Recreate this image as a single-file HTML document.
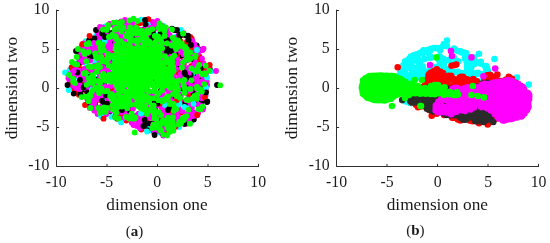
<!DOCTYPE html>
<html><head><meta charset="utf-8"><title>t-SNE</title>
<style>
html,body{margin:0;padding:0;background:#fff}
svg{display:block}
text{font-family:"Liberation Serif",serif;fill:#1a1a1a}
.t{font-size:15.8px}
.l{font-size:17px}
.c{font-size:15px}
</style></head><body>
<svg width="550" height="243" viewBox="0 0 550 243">
<rect width="550" height="243" fill="#fff"/>
<g id="dotsA">
<path d="M113.9 34.6h0M146.5 61.2h0M72.9 78.7h0M69.8 69.6h0M129.4 118.1h0M160.6 133.0h0M152.9 65.0h0M196.2 51.8h0M111.5 116.8h0M91.8 87.8h0M162.4 62.0h0M148.4 23.8h0M168.8 68.8h0M112.4 88.3h0M133.8 53.0h0M186.3 102.3h0M101.6 86.9h0M144.9 124.1h0M176.3 51.6h0M128.4 109.5h0M87.4 76.4h0M181.7 86.8h0M198.8 54.7h0M171.1 89.4h0M153.3 72.3h0M137.0 98.0h0M190.6 51.1h0M123.4 98.6h0M67.5 73.0h0M83.9 46.6h0M76.4 71.5h0M148.6 125.1h0M106.9 67.3h0M91.1 44.6h0M99.9 75.9h0M154.7 48.4h0M120.9 85.9h0M143.4 92.3h0M124.4 65.3h0M79.9 94.3h0M96.1 36.0h0M116.4 22.5h0M79.6 60.9h0M158.6 34.3h0M102.8 58.9h0M120.1 31.2h0M135.8 75.8h0M116.8 48.7h0M145.4 34.1h0M197.0 102.0h0M104.2 61.3h0M146.0 112.2h0M114.8 43.5h0M195.3 115.6h0M190.0 107.4h0M98.9 79.9h0M103.9 101.5h0M211.3 71.2h0M98.0 44.0h0M94.3 41.2h0M160.1 127.2h0M193.4 75.2h0M164.6 114.8h0M179.5 75.0h0M115.2 114.9h0M175.6 37.0h0M118.0 83.8h0M191.2 42.1h0M102.8 52.2h0M101.0 88.4h0M103.9 67.7h0M118.5 72.6h0M153.8 127.7h0M141.3 81.7h0M131.8 38.6h0M90.5 74.5h0M175.7 84.7h0M114.2 80.0h0M149.5 112.9h0M80.3 85.2h0M102.3 50.2h0M182.9 78.7h0M150.5 109.9h0M204.5 70.7h0M158.3 78.4h0M142.9 101.6h0M133.7 81.9h0M171.7 124.3h0M82.7 70.6h0M87.8 104.4h0M165.7 33.7h0M125.3 76.2h0M88.9 69.3h0M143.4 57.9h0M94.1 55.3h0M149.3 70.4h0M160.1 79.3h0M105.6 32.0h0M190.1 47.9h0M151.9 102.5h0M170.0 68.5h0M161.7 115.0h0M133.9 57.9h0M149.2 130.4h0M105.3 32.0h0M145.1 45.4h0M112.0 53.7h0M181.0 51.8h0M141.0 38.0h0M176.9 84.1h0M93.2 74.6h0M190.1 69.4h0M140.2 119.1h0M124.5 78.6h0M116.8 118.8h0M172.8 94.5h0M126.3 58.9h0M103.4 36.2h0M198.1 98.8h0M107.4 45.9h0M109.1 72.7h0M88.3 71.1h0M111.7 60.0h0M137.1 78.1h0M95.0 78.3h0M77.8 65.3h0M110.9 44.8h0M154.2 81.4h0M179.6 97.2h0M174.3 124.6h0M124.0 56.3h0M175.5 95.4h0M201.4 93.5h0M177.0 116.3h0M85.5 80.7h0M141.7 119.1h0M187.9 118.1h0M153.9 126.3h0M169.2 101.6h0M84.5 60.5h0M150.0 93.5h0M160.4 100.1h0M186.8 108.4h0M141.5 82.1h0M177.5 47.1h0M176.3 41.3h0M140.1 63.2h0M137.8 100.4h0M182.1 92.2h0M163.0 25.6h0M86.7 47.4h0M178.5 53.6h0M167.5 101.5h0M168.1 51.9h0M143.5 73.4h0M135.8 30.6h0M133.2 49.2h0M96.4 87.8h0M85.8 80.7h0M190.3 78.8h0M200.6 102.9h0M133.4 53.3h0M85.7 58.5h0M121.3 64.5h0M119.5 68.9h0M102.4 48.8h0M142.7 39.4h0M161.2 128.8h0M176.8 71.7h0M179.9 95.6h0M136.7 58.4h0M109.9 107.3h0M165.0 53.2h0M149.8 64.7h0M140.5 43.2h0M133.3 33.2h0M116.7 27.3h0M100.8 47.9h0M151.7 125.6h0M179.4 67.0h0M127.7 80.7h0M122.0 57.8h0M141.5 93.8h0M105.7 46.7h0M125.6 71.1h0M201.9 74.4h0M191.1 121.6h0M144.4 100.2h0M163.7 110.5h0M134.4 84.1h0M163.4 53.5h0M83.7 47.1h0M162.0 102.3h0M144.8 88.0h0M123.8 43.6h0M110.4 72.9h0M200.1 74.7h0M100.2 46.5h0M140.7 99.3h0M128.7 47.8h0M166.8 130.3h0M116.1 67.9h0M169.1 40.5h0M186.7 107.3h0M141.8 41.3h0M190.3 44.5h0M98.1 109.9h0M140.3 39.1h0M98.4 67.5h0M166.5 133.2h0M86.5 64.6h0M73.3 64.6h0M166.3 62.8h0M121.6 57.0h0M107.1 59.4h0M118.9 117.5h0M190.6 69.4h0M71.6 74.5h0M93.7 61.0h0M127.3 116.3h0M179.1 127.0h0M116.2 49.6h0M104.4 104.5h0M112.7 50.0h0M205.1 94.3h0M100.0 74.7h0M123.5 47.0h0M130.2 76.9h0M187.6 107.2h0M190.7 111.4h0M157.5 56.5h0M113.2 60.7h0M94.4 109.0h0M104.8 26.4h0M78.8 77.6h0M173.3 71.2h0M100.1 67.5h0M159.5 99.3h0M179.2 120.6h0M166.3 31.0h0M193.5 52.3h0M151.3 62.1h0M177.7 40.6h0M102.1 46.3h0M153.1 56.3h0M142.1 44.6h0M188.5 96.7h0M137.1 117.2h0M197.4 71.5h0M104.0 112.1h0M155.8 92.6h0M97.5 61.5h0M85.8 41.2h0M103.3 90.0h0M164.4 41.1h0M168.5 38.9h0M112.1 41.1h0M186.5 83.7h0M124.9 83.9h0M162.4 27.3h0" stroke="#00ffff" stroke-width="5.8" stroke-linecap="round" fill="none"/>
<path d="M89.2 101.9h0M127.1 51.0h0M112.1 86.0h0M119.0 67.4h0M120.0 40.4h0M176.1 41.2h0M129.3 117.3h0M135.0 36.1h0M162.7 128.4h0M77.7 92.8h0M121.1 78.3h0M86.5 51.0h0M80.8 76.6h0M138.3 22.6h0M203.3 92.6h0M185.0 43.4h0M126.3 120.5h0M191.7 38.6h0M97.6 65.4h0M143.8 63.4h0M83.0 46.5h0M175.6 126.8h0M156.3 83.9h0M160.6 53.8h0M128.7 88.0h0M129.6 97.4h0M132.8 70.1h0M139.4 45.1h0M181.6 112.3h0M134.6 38.2h0M136.9 29.2h0M83.8 69.2h0M78.1 70.6h0M142.6 21.0h0M162.0 26.2h0M177.0 112.0h0M142.8 22.7h0M141.6 62.7h0M176.7 116.7h0M180.5 35.6h0M202.1 50.0h0M141.3 129.6h0M96.1 48.5h0M141.9 55.4h0M168.7 126.6h0M81.7 81.5h0M162.0 60.4h0M198.4 84.6h0M153.3 125.0h0M161.0 64.7h0M186.8 48.7h0M119.5 110.4h0M132.1 37.8h0M190.3 47.3h0M154.2 98.0h0M158.9 69.4h0M143.0 126.6h0M84.3 44.1h0M80.4 60.1h0M98.5 88.1h0M154.7 41.2h0M160.1 74.7h0M101.5 34.4h0M78.8 94.8h0M198.2 112.6h0M125.9 48.6h0M150.6 59.3h0M163.4 70.8h0M70.8 81.6h0M126.5 45.4h0M94.7 91.1h0M142.1 95.2h0M189.3 37.6h0M111.6 53.1h0M184.6 104.4h0M178.8 73.5h0M178.2 71.9h0M115.7 108.6h0M171.0 120.4h0M173.6 48.8h0M149.3 69.9h0M185.4 80.6h0M104.9 95.3h0M104.1 45.2h0M178.9 56.4h0M199.5 56.6h0M161.1 101.6h0M136.3 119.7h0M171.4 121.9h0M131.3 105.5h0M151.8 54.0h0M96.6 92.9h0M117.1 33.5h0M170.7 94.3h0M171.3 107.0h0M74.1 88.9h0M120.0 117.0h0M194.5 116.3h0M161.7 117.9h0M161.3 51.5h0M180.6 41.3h0M113.1 68.3h0M107.5 104.4h0M120.7 55.6h0M195.1 92.4h0M131.2 111.5h0M117.4 103.0h0M146.8 42.7h0M190.3 37.0h0M139.7 114.4h0M92.4 77.1h0M117.5 118.7h0M107.7 42.5h0M171.7 77.5h0M80.9 94.6h0M171.4 113.2h0M160.7 59.9h0M125.8 64.7h0M95.7 48.5h0M202.8 77.9h0M100.0 72.9h0M145.9 109.2h0M180.0 95.8h0M117.7 56.3h0M166.0 107.6h0M90.1 70.2h0M183.1 87.5h0M83.4 73.1h0M93.5 53.2h0M172.3 120.2h0M102.1 56.3h0M144.4 35.9h0M114.5 39.4h0M79.7 63.5h0M176.9 69.7h0M94.2 94.8h0M125.4 113.7h0M170.8 77.8h0M161.4 73.2h0M85.8 90.6h0M126.3 107.5h0M203.8 69.1h0M152.4 108.5h0M128.9 44.2h0M175.2 124.7h0M183.2 102.5h0M195.3 99.9h0M162.8 72.1h0M112.2 93.6h0M79.1 67.8h0M184.5 104.1h0M161.0 46.9h0M129.2 72.2h0M159.7 66.6h0M168.0 130.9h0M92.2 96.8h0M183.8 64.0h0M69.9 83.1h0M79.6 87.0h0M147.3 104.6h0M142.9 94.9h0M191.7 80.4h0M96.4 100.5h0M124.4 110.2h0M118.7 23.0h0M106.3 65.4h0M128.8 102.2h0M118.2 48.7h0M98.6 107.6h0M124.4 42.2h0M188.7 94.3h0M136.3 85.4h0M118.4 94.9h0M190.1 116.8h0M136.1 52.4h0M148.4 31.5h0M192.4 59.8h0M195.0 49.0h0M121.9 47.3h0M129.6 39.0h0M107.3 46.3h0M110.5 75.2h0M130.0 94.7h0M165.5 60.8h0M165.0 46.9h0M100.0 111.9h0M117.4 34.9h0M157.7 112.5h0M166.9 126.4h0M185.4 119.6h0M94.4 101.6h0M145.7 107.6h0M149.5 48.7h0M100.1 33.2h0M139.9 23.2h0M135.9 33.8h0M139.7 77.5h0M147.1 122.6h0M136.1 85.5h0M166.5 119.8h0M121.7 67.7h0M162.1 94.6h0M169.1 131.0h0M142.6 75.9h0M174.6 93.2h0M120.4 74.6h0M144.9 111.2h0M96.5 69.7h0M129.0 84.4h0M191.3 52.2h0M191.5 65.9h0M141.6 49.6h0M164.8 113.8h0M115.0 55.2h0M110.1 88.4h0M161.8 112.9h0M200.4 83.4h0M205.9 91.2h0M165.3 113.4h0M204.1 91.5h0M159.0 93.4h0M171.2 89.6h0M168.9 42.2h0M166.7 72.5h0M165.0 61.6h0M190.7 113.1h0M150.6 47.9h0M110.5 68.1h0M113.0 69.2h0M162.8 131.3h0M72.4 86.1h0M188.8 87.1h0M205.5 71.1h0M155.2 131.8h0M127.5 28.6h0M163.3 42.2h0M174.8 45.9h0M177.0 39.1h0M173.9 121.7h0M160.8 103.6h0M111.9 106.1h0M138.9 23.4h0M120.6 87.0h0M131.6 99.6h0M119.9 95.6h0M161.0 67.6h0M123.4 113.1h0M151.3 52.1h0M172.3 118.2h0M115.1 90.8h0M156.6 54.1h0M122.0 100.6h0M156.7 126.7h0M188.4 51.0h0M129.1 88.5h0M152.1 49.8h0M195.1 115.7h0M169.4 128.8h0M117.4 26.5h0M149.3 114.5h0" stroke="#ff0000" stroke-width="5.8" stroke-linecap="round" fill="none"/>
<path d="M94.9 108.6h0M157.5 99.7h0M135.7 41.5h0M103.2 108.8h0M185.9 72.8h0M182.9 44.8h0M153.3 126.8h0M200.3 80.4h0M137.4 88.8h0M93.1 39.8h0M91.8 102.6h0M119.9 85.7h0M126.0 79.9h0M80.3 94.1h0M185.3 35.3h0M156.0 58.6h0M197.4 76.1h0M151.3 48.3h0M184.0 68.6h0M95.0 38.3h0M149.8 123.5h0M156.1 65.1h0M103.6 85.7h0M162.7 134.1h0M167.1 64.6h0M133.0 35.7h0M103.4 59.5h0M185.1 103.6h0M168.2 52.9h0M155.1 109.6h0M80.2 56.0h0M103.6 31.3h0M138.1 36.8h0M100.7 33.7h0M174.5 40.1h0M85.5 71.2h0M193.7 93.6h0M133.7 58.0h0M190.8 75.0h0M160.7 33.6h0M173.9 84.3h0M105.0 66.9h0M88.0 49.5h0M193.3 57.3h0M89.8 76.6h0M166.9 42.1h0M137.5 51.3h0M103.7 40.9h0M79.0 51.7h0M175.9 52.3h0M188.3 58.1h0M192.2 81.0h0M92.6 69.8h0M152.0 33.1h0M173.6 40.3h0M157.7 77.2h0M106.2 41.4h0M158.3 103.4h0M189.0 88.0h0M176.8 66.4h0M188.8 57.4h0M204.2 74.9h0M198.3 48.9h0M120.5 36.2h0M121.2 89.5h0M132.6 79.7h0M113.4 103.8h0M122.7 108.8h0M143.1 81.5h0M102.6 116.9h0M171.6 40.1h0M152.8 80.6h0M172.2 28.7h0M197.9 104.6h0M140.0 77.8h0M107.1 31.1h0M126.5 32.9h0M155.1 122.3h0M86.7 86.7h0M179.0 36.3h0M123.9 67.9h0M193.3 80.9h0M183.6 57.8h0M101.0 57.4h0M189.5 120.7h0M72.2 79.9h0M102.4 68.1h0M161.4 61.0h0M145.7 24.6h0M130.7 78.3h0M162.8 48.8h0M168.5 49.8h0M147.5 130.2h0M159.7 46.9h0M144.1 69.6h0M111.0 96.0h0M82.5 89.4h0M105.3 73.6h0M146.2 34.3h0M109.2 66.2h0M108.4 46.1h0M77.5 83.5h0M193.3 91.3h0M151.8 96.3h0M95.0 103.7h0M135.0 83.7h0M158.4 73.9h0M111.8 45.9h0M98.1 79.3h0M123.0 88.3h0M196.7 45.5h0M149.7 76.7h0M109.5 111.4h0M198.2 70.3h0M73.6 63.9h0M131.7 106.8h0M87.8 57.6h0M118.3 99.4h0M158.9 121.0h0M190.5 79.9h0M177.8 107.8h0M181.0 74.7h0M184.9 103.5h0M181.9 88.4h0M152.1 67.6h0M184.7 123.8h0M157.5 62.9h0M133.7 72.6h0M175.4 52.2h0M124.2 84.6h0M123.2 55.8h0M185.2 120.9h0M140.9 70.8h0M92.4 53.5h0M86.3 87.1h0M153.6 26.9h0M193.9 119.5h0M151.0 77.4h0M143.7 79.9h0M169.5 64.1h0M119.1 89.4h0M168.2 80.9h0M79.2 62.2h0M125.7 85.3h0M152.4 124.7h0M131.8 93.1h0M145.6 116.8h0M90.3 55.3h0M142.9 29.6h0M201.8 101.2h0M200.8 68.0h0M88.1 51.8h0M142.8 78.4h0M93.0 38.5h0M161.0 90.5h0M127.4 113.3h0M111.2 101.3h0M193.7 88.4h0M166.9 40.3h0M140.7 84.3h0M105.0 95.9h0M152.5 66.8h0M144.5 117.7h0M158.4 115.6h0M182.7 55.9h0M174.2 59.7h0M90.1 48.9h0M153.7 59.1h0M133.3 63.6h0M131.7 92.6h0M189.6 53.5h0M101.4 64.1h0M174.6 43.3h0M138.6 113.9h0M101.5 37.4h0M119.2 39.0h0M150.5 30.2h0M146.2 63.6h0M126.1 24.1h0M118.1 46.2h0M93.4 51.0h0M166.3 58.2h0M88.0 103.2h0M132.3 119.3h0M188.0 35.7h0M118.3 105.2h0M141.7 44.1h0M133.7 32.2h0M172.8 48.2h0M202.5 88.6h0M120.7 46.4h0M157.7 42.2h0M143.0 83.0h0M105.6 111.3h0M123.3 97.2h0M151.4 54.4h0M124.0 26.6h0M113.4 97.8h0M80.8 85.4h0M119.7 77.8h0M109.7 24.1h0M111.9 44.0h0M107.5 65.8h0M84.4 50.2h0M166.2 59.4h0M127.5 97.4h0M171.7 46.7h0M194.4 59.5h0M160.8 38.4h0M177.0 104.0h0M89.0 40.5h0M110.7 63.0h0M162.3 38.2h0M193.3 86.4h0M174.4 47.5h0M131.0 100.5h0M192.5 111.9h0M195.5 91.0h0M171.0 64.6h0M179.1 118.3h0M107.3 27.1h0M209.7 68.4h0M207.3 101.4h0M177.7 118.5h0M160.7 71.9h0M130.0 79.2h0M172.2 115.5h0M104.2 83.5h0M147.8 46.8h0M127.4 40.9h0M111.8 32.9h0M172.9 98.8h0M100.6 45.9h0M143.4 71.0h0M85.9 85.6h0M115.4 116.7h0M148.4 109.9h0M90.1 98.3h0M156.2 73.0h0M182.0 118.6h0" stroke="#000000" stroke-width="5.8" stroke-linecap="round" fill="none"/>
<path d="M81.6 51.7h0M119.5 41.5h0M94.4 102.7h0M133.0 30.0h0M114.0 73.9h0M119.9 36.8h0M80.8 76.4h0M130.9 39.4h0M205.6 95.6h0M160.7 131.5h0M164.5 47.0h0M101.9 33.1h0M193.3 52.6h0M92.6 94.8h0M191.9 107.7h0M114.3 38.8h0M191.1 55.5h0M120.8 84.1h0M120.9 118.7h0M151.3 93.6h0M190.2 103.1h0M140.1 77.7h0M88.3 53.0h0M153.5 25.9h0M169.9 36.2h0M131.7 39.6h0M185.2 68.5h0M107.6 97.7h0M143.3 68.0h0M116.2 70.2h0M166.6 118.0h0M109.5 70.7h0M150.8 59.0h0M113.8 72.9h0M168.2 91.2h0M109.7 86.5h0M163.7 53.0h0M168.5 71.2h0M121.3 87.7h0M128.1 81.5h0M151.0 64.9h0M201.1 83.7h0M103.0 27.7h0M145.7 47.1h0M139.3 84.4h0M98.9 86.7h0M81.4 79.4h0M154.6 25.9h0M126.8 25.1h0M131.7 122.6h0M148.8 104.3h0M124.4 37.2h0M183.3 32.9h0M100.5 62.0h0M96.8 53.0h0M172.9 68.6h0M200.8 92.7h0M198.3 85.5h0M89.9 108.1h0M116.6 110.3h0M168.8 118.0h0M82.9 62.1h0M157.0 28.3h0M148.5 115.2h0M168.0 47.4h0M93.7 71.2h0M193.1 87.8h0M92.5 84.4h0M108.7 100.9h0M122.6 33.8h0M198.8 82.5h0M170.2 115.8h0M116.7 34.6h0M141.3 123.8h0M168.6 64.5h0M137.3 35.5h0M194.1 64.6h0M198.4 91.4h0M90.1 60.6h0M136.0 87.3h0M123.7 59.7h0M167.3 49.7h0M106.1 77.8h0M104.4 86.3h0M150.3 111.2h0M198.3 111.6h0M161.5 94.4h0M119.9 50.8h0M186.5 123.8h0M110.8 110.3h0M177.9 78.9h0M161.8 59.3h0M148.8 66.1h0M138.1 61.4h0M101.5 45.0h0M117.8 32.7h0M133.8 71.0h0M151.6 53.3h0M110.4 54.1h0M175.9 84.1h0M205.9 88.0h0M119.0 111.6h0M74.4 75.8h0M202.5 50.1h0M89.3 49.1h0M172.5 43.0h0M125.5 40.7h0M156.8 122.7h0M163.8 40.3h0M156.6 25.8h0M116.5 32.9h0M93.0 82.3h0M198.8 95.0h0M114.3 108.5h0M163.9 66.1h0M168.6 57.7h0M72.8 67.2h0M115.5 77.1h0M156.1 47.7h0M206.5 85.7h0M158.6 105.4h0M114.7 27.5h0M189.4 68.3h0M147.0 88.7h0M149.5 97.2h0M156.6 56.9h0M178.1 47.8h0M173.6 110.3h0M183.5 54.2h0M133.8 50.4h0M137.3 96.9h0M183.2 60.8h0M73.3 78.0h0M149.5 38.5h0M183.8 46.0h0M162.0 58.5h0M187.3 72.8h0M73.2 85.7h0M98.5 47.1h0M104.4 69.6h0M99.6 41.1h0M180.9 95.4h0M97.4 86.3h0M197.9 49.0h0M179.7 117.6h0M107.5 56.9h0M138.8 126.0h0M88.9 100.3h0M156.0 72.0h0M153.2 125.0h0M119.5 112.3h0M174.3 124.9h0M100.1 113.8h0M141.7 44.6h0M130.3 29.0h0M82.6 76.2h0M84.9 68.9h0M91.6 100.6h0M141.1 29.9h0M118.5 77.3h0M200.0 106.3h0M106.0 37.9h0M70.7 78.8h0M126.9 84.7h0M170.0 96.7h0M147.8 83.8h0M198.6 104.6h0M125.5 55.3h0M123.6 63.6h0M127.1 33.7h0M157.6 130.4h0M103.2 91.4h0M122.1 45.7h0M193.8 112.8h0M170.9 56.1h0M163.5 83.8h0M195.4 79.0h0M100.1 93.7h0M178.5 62.8h0M173.7 64.6h0M145.0 91.7h0M168.3 55.8h0M160.9 83.1h0M98.4 91.6h0M136.9 105.1h0M144.4 74.9h0M98.1 33.5h0M206.8 81.3h0M144.7 81.1h0M189.3 45.5h0M134.9 95.1h0M122.7 118.8h0M87.7 47.1h0M79.8 60.0h0M187.7 80.4h0M133.7 26.9h0M171.0 71.5h0M137.7 114.6h0M180.9 34.5h0M168.7 61.3h0M144.2 45.3h0M121.1 58.0h0M94.9 86.5h0M174.6 49.9h0M113.9 45.9h0M162.0 122.1h0M95.1 68.3h0M186.0 92.3h0M121.2 21.4h0M132.1 61.3h0M173.7 52.5h0M126.8 96.1h0M188.9 59.5h0M123.3 87.5h0M121.3 98.2h0M114.7 24.7h0M180.4 62.9h0M145.0 77.3h0M202.8 109.5h0M135.2 73.1h0M193.3 67.2h0M136.9 126.0h0M131.7 76.7h0M142.8 117.8h0M167.2 107.4h0M125.9 21.0h0M168.7 84.4h0M182.5 111.1h0M180.0 85.7h0M173.5 75.6h0M128.4 88.1h0M115.5 80.0h0M106.3 48.4h0M112.2 47.5h0M196.3 84.6h0M142.7 67.9h0M197.5 115.0h0M195.9 47.7h0M146.7 62.2h0M135.5 76.4h0M153.9 61.2h0M187.4 40.7h0M205.6 84.7h0M146.1 66.5h0M151.0 56.0h0M106.1 114.3h0M108.9 103.8h0M187.6 89.1h0M72.9 69.6h0M155.8 38.3h0M206.0 85.3h0M187.3 77.5h0M167.8 99.4h0M109.4 42.1h0M127.9 97.4h0M169.6 35.1h0M109.2 44.7h0M153.6 55.4h0M150.3 35.0h0M122.5 95.1h0M98.4 83.4h0M78.4 73.4h0M176.1 69.1h0M168.6 30.1h0M108.8 59.0h0M179.6 77.3h0M138.7 122.7h0M156.1 82.8h0M194.2 44.1h0M115.3 71.5h0M102.1 107.7h0M109.9 24.6h0M150.1 27.8h0M148.9 113.3h0M155.7 73.0h0M69.2 79.4h0M84.3 87.4h0M118.3 62.3h0M166.1 36.2h0M198.5 75.3h0M140.4 82.2h0M82.1 73.8h0M89.3 82.1h0M142.0 61.3h0M94.4 65.9h0M141.3 126.0h0M139.2 113.7h0M151.8 101.1h0M99.3 108.6h0M87.7 48.6h0M143.8 52.1h0M153.1 44.9h0M155.7 112.8h0M101.8 90.0h0M159.2 101.4h0M189.5 58.2h0M188.8 73.0h0M208.8 66.9h0M126.7 26.9h0M101.7 106.6h0M168.5 34.7h0M117.0 33.3h0M94.5 43.1h0M137.9 77.4h0M179.7 94.6h0M94.7 93.2h0M194.2 113.1h0M117.8 36.0h0M178.8 32.7h0M203.3 108.0h0M192.2 115.1h0M154.9 69.8h0M191.1 112.9h0M198.1 52.9h0M99.7 40.5h0M134.5 45.2h0M139.9 128.2h0M169.5 103.7h0M124.4 112.8h0M186.2 100.3h0M126.6 26.8h0M164.5 119.3h0M116.3 89.5h0M192.8 113.9h0M189.1 67.7h0M157.1 72.5h0M115.7 42.4h0M159.4 52.1h0M172.0 70.6h0M165.8 115.7h0M92.4 49.5h0M158.0 126.4h0M124.7 77.7h0M134.0 116.0h0M102.6 59.5h0M79.5 84.3h0M196.8 79.5h0M201.6 98.3h0M119.7 97.7h0M161.3 62.4h0M144.4 99.6h0M203.7 77.5h0M169.3 84.8h0M133.0 108.8h0M201.2 106.0h0M114.1 32.9h0M86.3 88.6h0M152.8 21.8h0M124.4 108.3h0M162.8 50.7h0M181.4 52.0h0M147.8 68.0h0M188.0 99.5h0M173.3 101.3h0M106.7 36.0h0M152.6 118.0h0M186.2 58.9h0M85.5 79.7h0M177.7 37.1h0M109.8 63.3h0M92.8 54.2h0M113.4 70.1h0M80.7 48.1h0M124.7 63.6h0M133.3 119.4h0M162.1 112.2h0M112.5 34.8h0M180.6 74.1h0M150.0 98.8h0M179.9 50.0h0M145.5 51.6h0M161.0 48.1h0M191.3 86.0h0M104.9 46.1h0M74.8 83.7h0M180.1 99.7h0M127.6 115.8h0M81.1 53.9h0M163.3 135.5h0M161.6 101.5h0M183.3 64.7h0M116.6 64.5h0M188.1 59.2h0M145.9 80.4h0M167.1 127.3h0M84.6 57.8h0M74.2 67.0h0M141.3 121.2h0M166.8 87.4h0M126.2 86.9h0M185.4 119.5h0M87.3 98.9h0M180.1 77.8h0M178.4 117.4h0M163.9 124.5h0M172.4 91.6h0M156.9 117.8h0M106.0 42.3h0M187.5 60.4h0M193.1 56.2h0M85.4 50.0h0M73.1 71.0h0M149.5 115.7h0M160.9 58.0h0M115.0 86.2h0M97.6 114.0h0M188.5 82.3h0M68.4 78.3h0M129.3 23.8h0M161.0 105.5h0M154.1 65.4h0M142.9 88.7h0M137.6 32.5h0M133.9 100.3h0M173.1 72.1h0M116.6 39.5h0M126.0 50.9h0M93.9 106.9h0M143.5 70.2h0M94.4 102.9h0M94.3 48.8h0M150.3 102.6h0M175.3 104.9h0M175.2 93.8h0M104.6 59.9h0M89.2 94.1h0M187.9 72.2h0M137.3 117.5h0M150.8 78.7h0M96.2 47.1h0M176.8 63.4h0M189.0 119.9h0M97.0 88.3h0M191.9 113.1h0M135.4 21.3h0M200.9 82.0h0M160.2 125.3h0M138.6 95.0h0M95.7 46.1h0M203.5 63.3h0M80.0 89.0h0M134.3 88.3h0M162.0 103.3h0M131.7 24.3h0M136.5 65.4h0M167.6 104.1h0M100.9 96.2h0M170.6 74.3h0M156.3 23.7h0M99.2 64.4h0M185.4 117.7h0M161.6 107.6h0M97.8 99.0h0M89.1 79.2h0M149.6 117.4h0M141.4 92.6h0M155.6 114.7h0M148.0 51.9h0M191.8 116.2h0M134.5 31.1h0M164.1 41.6h0M130.1 29.6h0M118.3 27.6h0M176.4 120.9h0M120.6 53.4h0M181.4 34.3h0M170.6 89.9h0M144.1 72.3h0M126.7 91.5h0M163.9 129.2h0M176.8 114.4h0M168.9 121.0h0M132.0 103.3h0M102.9 53.1h0M117.7 56.1h0M78.6 70.7h0M179.9 49.9h0M102.5 66.9h0M114.6 111.1h0M186.4 81.7h0M112.3 93.4h0M120.5 82.4h0M145.8 96.3h0M91.1 70.1h0M169.8 101.3h0M178.9 109.0h0M102.3 47.8h0M96.2 48.1h0M155.0 97.0h0M156.1 101.8h0M110.8 23.9h0M119.7 33.6h0M81.4 77.0h0M106.1 111.0h0M110.7 66.5h0M170.2 70.9h0M191.6 43.9h0M195.7 115.2h0M167.3 50.3h0M165.5 88.5h0M165.8 38.3h0M164.4 86.3h0M120.0 105.2h0M102.8 61.2h0M144.5 29.8h0M102.2 114.3h0M107.9 63.0h0M181.8 43.7h0M93.9 43.0h0M123.2 61.1h0M162.8 74.3h0M166.2 119.3h0M131.5 30.3h0M134.8 103.9h0M137.8 37.5h0M99.5 70.4h0M119.6 73.9h0M178.6 85.5h0M100.9 37.1h0M206.3 72.9h0M133.8 55.3h0M95.6 97.9h0M119.6 30.8h0M164.6 79.6h0M67.8 74.1h0M178.0 82.3h0M100.0 77.6h0M157.2 96.4h0M196.0 61.4h0M98.9 89.8h0M131.6 33.3h0M93.5 108.5h0M153.8 132.0h0M125.9 99.9h0M99.9 74.9h0M159.7 42.7h0M192.4 40.9h0M113.6 66.3h0M116.8 98.6h0M103.7 72.1h0M150.5 103.9h0M85.2 45.7h0M144.4 87.8h0M100.1 36.7h0M154.2 71.9h0M165.9 122.2h0M209.1 66.4h0M108.6 51.7h0M128.7 81.4h0M194.7 115.7h0M164.6 79.3h0M82.0 46.1h0M165.4 88.4h0M151.8 38.4h0M170.6 47.6h0M100.4 61.2h0M144.7 99.7h0M160.1 74.3h0M167.5 114.8h0M168.4 103.6h0M163.7 38.3h0M99.9 69.2h0M177.2 60.4h0M166.2 110.7h0M83.6 43.5h0M97.1 48.9h0M126.5 68.0h0M76.0 87.9h0M118.8 103.0h0M131.3 37.7h0M168.1 35.9h0M182.1 119.2h0M162.9 94.4h0M94.2 110.6h0M110.3 47.6h0M190.5 90.2h0M154.7 40.5h0M175.7 49.6h0M90.7 101.9h0M104.8 103.8h0M115.6 80.5h0M113.3 67.5h0M137.7 47.9h0M160.1 102.0h0M104.5 113.8h0M176.2 58.2h0M139.7 39.3h0M207.1 85.2h0M170.7 63.6h0M174.4 44.3h0M186.8 115.0h0M78.5 88.4h0M93.5 103.4h0M187.8 113.7h0M166.2 85.8h0M153.7 29.3h0M161.6 45.8h0M103.8 68.3h0M146.1 105.5h0M98.0 51.9h0" stroke="#ff00ff" stroke-width="5.8" stroke-linecap="round" fill="none"/>
<path d="M141.0 19.6h0M104.8 41.0h0M180.8 30.0h0M197.0 50.0h0M65.0 72.4h0M68.7 90.0h0M184.5 107.0h0M141.0 113.5h0M207.0 77.4h0M206.0 87.4h0M177.4 105.0h0M165.0 105.0h0M101.0 116.0h0M121.0 122.4h0M147.0 131.5h0M179.5 103.7h0M142.0 112.5h0M193.5 103.7h0" stroke="#00ffff" stroke-width="5.8" stroke-linecap="round" fill="none"/>
<path d="M148.4 19.2h0M89.5 35.8h0M82.2 44.2h0M190.7 46.0h0M187.0 42.4h0M71.5 67.5h0M85.0 105.0h0M167.0 66.0h0M200.0 60.0h0M209.7 65.0h0M204.7 97.4h0M177.0 100.0h0M103.6 118.7h0M159.6 103.7h0M197.0 115.0h0" stroke="#ff0000" stroke-width="5.8" stroke-linecap="round" fill="none"/>
<path d="M96.0 30.0h0M102.0 33.6h0M105.0 37.0h0M153.0 33.0h0M161.0 33.5h0M174.5 30.0h0M179.5 35.0h0M167.0 48.0h0M171.0 51.0h0M92.0 56.0h0M76.0 51.0h0M145.0 20.0h0M152.0 38.0h0M167.0 40.0h0M177.0 30.0h0M180.0 36.0h0M188.6 40.0h0M191.0 45.0h0M167.0 52.0h0M67.5 85.0h0M73.7 93.6h0M77.4 72.4h0M80.0 80.0h0M83.6 87.4h0M87.4 92.4h0M106.0 95.0h0M102.0 101.0h0M107.0 103.6h0M154.6 102.0h0M169.6 108.5h0M184.5 72.4h0M185.0 73.7h0M187.0 77.4h0M206.0 92.4h0M157.4 103.6h0M207.0 102.0h0M105.0 103.7h0M122.0 110.0h0M144.7 120.0h0M143.4 126.0h0M154.6 135.0h0M184.5 123.7h0M168.0 110.0h0M145.0 125.0h0" stroke="#000000" stroke-width="5.8" stroke-linecap="round" fill="none"/>
<path d="M157.4 21.0h0M203.5 48.6h0M73.7 71.0h0M202.0 58.7h0M216.0 71.0h0M133.5 125.0h0M110.0 24.0h0M125.0 20.0h0M100.0 27.0h0" stroke="#ff00ff" stroke-width="5.8" stroke-linecap="round" fill="none"/>
<path d="M162.5 101.4h0M158.7 127.4h0M95.5 54.4h0M88.2 43.9h0M182.8 118.1h0M186.3 54.2h0M112.6 105.1h0M143.1 34.7h0M135.1 40.4h0M144.3 60.8h0M174.3 81.4h0M74.8 63.8h0M138.5 47.2h0M167.0 43.4h0M113.0 74.9h0M173.7 111.1h0M121.2 71.2h0M159.3 29.0h0M134.2 94.6h0M83.9 73.5h0M159.4 53.0h0M77.2 64.6h0M89.3 81.7h0M129.6 57.7h0M104.0 107.5h0M157.0 51.7h0M135.6 104.4h0M116.2 46.6h0M103.3 73.9h0M195.6 55.7h0M90.6 108.0h0M116.6 39.2h0M128.4 117.5h0M196.9 87.0h0M157.4 127.1h0M105.0 61.2h0M121.7 59.6h0M122.2 29.6h0M127.2 94.5h0M200.6 109.3h0M176.1 109.2h0M165.0 63.0h0M147.0 57.5h0M190.4 58.6h0M168.2 96.6h0M148.4 72.3h0M116.3 112.7h0M97.0 58.0h0M178.1 40.5h0M135.2 65.6h0M111.7 94.1h0M201.8 74.1h0M202.5 106.6h0M152.3 29.1h0M154.5 118.4h0M143.9 75.8h0M119.8 60.9h0M130.6 104.6h0M130.1 27.4h0M185.5 60.0h0M98.2 108.0h0M130.8 63.0h0M173.3 130.8h0M95.1 53.3h0M114.7 106.4h0M92.8 83.5h0M141.0 98.6h0M204.2 84.1h0M181.0 123.3h0M161.2 115.2h0M129.3 90.4h0M103.9 50.1h0M128.7 79.4h0M136.1 27.4h0M174.4 108.4h0M100.5 47.6h0M143.6 37.7h0M156.8 127.7h0M95.1 88.3h0M175.0 108.5h0M173.7 103.8h0M209.4 70.7h0M186.7 99.7h0M85.9 72.8h0M115.8 110.7h0M88.8 66.7h0M159.2 53.4h0M88.9 43.0h0M112.6 78.3h0M92.3 75.2h0M136.6 40.4h0M126.1 59.7h0M129.5 59.5h0M170.4 64.4h0M118.6 93.8h0M205.7 65.6h0M130.6 52.8h0M149.3 97.8h0M86.4 61.2h0M148.6 65.7h0M137.9 77.2h0M117.9 81.7h0M137.4 57.1h0M123.6 91.2h0M185.0 48.2h0M121.1 63.9h0M147.0 50.1h0M115.2 117.4h0M88.7 101.2h0M86.6 44.2h0M130.8 39.8h0M179.2 122.0h0M123.4 27.5h0M198.4 109.1h0M173.1 93.8h0M91.9 91.2h0M130.9 64.3h0M103.0 44.7h0M172.7 37.6h0M118.1 107.0h0M73.1 81.5h0M131.7 113.7h0M152.7 71.8h0M199.7 90.2h0M115.9 64.9h0M123.0 101.3h0M127.8 98.7h0M151.8 106.0h0M158.7 55.1h0M122.0 49.2h0M185.4 117.4h0M113.0 109.6h0M104.4 91.4h0M139.3 50.0h0M152.3 128.0h0M154.3 68.8h0M106.6 30.0h0M198.2 70.6h0M175.9 47.7h0M176.5 96.1h0M175.2 42.5h0M129.7 86.6h0M188.5 109.7h0M136.8 30.6h0M162.1 62.5h0M69.1 75.0h0M135.5 73.9h0M92.6 77.8h0M115.8 36.2h0M185.0 46.9h0M161.1 81.8h0M195.6 70.8h0M188.1 100.2h0M178.7 44.7h0M135.4 117.6h0M88.7 100.5h0M149.3 66.0h0M136.4 76.9h0M105.2 61.4h0M149.3 110.1h0M154.8 36.0h0M148.3 54.8h0M83.1 51.1h0M160.9 85.5h0M161.6 83.1h0M196.8 98.7h0M119.5 90.7h0M149.2 41.4h0M142.1 30.6h0M192.9 98.6h0M169.4 130.4h0M154.8 117.8h0M143.4 56.0h0M120.1 97.7h0M164.6 35.9h0M175.8 84.1h0M154.6 114.9h0M88.6 78.1h0M152.5 85.2h0M127.6 83.1h0M129.1 45.2h0M180.6 45.9h0M123.7 57.4h0M181.8 43.5h0M167.2 119.1h0M133.7 78.1h0M76.7 57.0h0M129.2 54.1h0M111.0 56.1h0M130.0 36.5h0M194.5 96.0h0M73.0 78.6h0M115.6 28.7h0M142.6 36.8h0M167.1 69.5h0M165.8 27.3h0M98.3 65.2h0M115.6 48.9h0M167.3 43.5h0M125.7 101.0h0M130.3 35.2h0M74.9 83.1h0M139.2 40.0h0M167.2 77.2h0M188.6 52.1h0M136.9 33.5h0M138.5 31.7h0M169.6 102.1h0M113.6 22.6h0M153.8 105.3h0M117.6 101.9h0M120.5 104.0h0M197.2 94.6h0M122.6 98.9h0M197.2 88.6h0M94.3 80.1h0M138.4 57.7h0M121.5 79.0h0M154.6 43.5h0M106.7 78.1h0M141.6 67.7h0M145.9 50.1h0M184.3 79.9h0M142.7 62.3h0M108.7 65.7h0M173.1 117.1h0M138.3 106.3h0M96.8 71.8h0M119.1 53.8h0M176.9 41.6h0M100.0 112.9h0M164.8 99.5h0M167.2 135.4h0M115.9 29.4h0M139.1 61.6h0M105.6 76.2h0M173.7 126.6h0M131.6 68.0h0M195.3 56.9h0M129.8 39.7h0M183.0 62.3h0M131.7 65.1h0M155.7 47.5h0M115.3 99.9h0M160.2 39.3h0M158.1 52.3h0M154.2 87.0h0M114.1 95.6h0M156.7 79.0h0M111.9 67.4h0M101.5 88.5h0M186.6 116.1h0M105.5 111.9h0M99.1 93.2h0M183.8 120.0h0M148.4 63.8h0M104.0 109.0h0M120.8 69.4h0M142.2 51.7h0M172.1 79.7h0M142.6 77.0h0M119.1 57.4h0M158.7 85.6h0M107.7 26.4h0M81.6 97.1h0M145.9 56.5h0M116.1 67.6h0M125.9 36.0h0M166.0 98.1h0M132.7 66.1h0M134.4 118.7h0M121.7 106.6h0M168.1 77.4h0M136.7 40.4h0M90.6 95.7h0M158.4 37.2h0M142.5 54.8h0M148.8 32.6h0M138.4 92.1h0M84.8 54.1h0M168.5 83.5h0M159.0 112.3h0M152.0 43.4h0M132.1 118.5h0M151.3 109.0h0M120.1 71.4h0M164.5 29.2h0M176.1 49.0h0M191.5 80.3h0M131.8 118.5h0M170.0 81.8h0M88.6 52.1h0M186.6 50.7h0M176.8 44.1h0M149.0 91.6h0M171.7 73.3h0M107.3 108.0h0M171.0 64.9h0M98.5 42.8h0M142.5 77.9h0M178.8 124.2h0M119.0 41.9h0M117.5 106.4h0M144.8 35.0h0M205.5 74.3h0M95.6 66.3h0M113.1 100.1h0M161.0 77.9h0M122.6 49.0h0M117.6 88.2h0M148.8 91.1h0M191.3 68.5h0M108.3 58.4h0M133.2 59.9h0M146.8 50.0h0M173.9 38.7h0M121.4 31.6h0M105.8 80.8h0M159.7 63.8h0M165.4 81.4h0M127.7 67.2h0M152.8 111.4h0M131.3 76.1h0M157.5 94.4h0M154.3 91.2h0M114.8 62.4h0M91.6 67.0h0M204.9 73.3h0M145.4 73.8h0M146.9 39.6h0M124.6 64.4h0M147.5 49.5h0M140.2 52.3h0M108.0 53.9h0M121.6 86.2h0M178.6 80.6h0M137.4 56.2h0M101.3 56.8h0M184.5 92.9h0M149.0 62.8h0M143.1 77.2h0M142.8 77.3h0M122.5 69.1h0M133.7 91.3h0M110.1 96.0h0M140.7 57.3h0M143.6 70.8h0M136.8 77.2h0M127.7 31.8h0M161.5 67.6h0M89.9 94.8h0M124.8 79.9h0M201.9 91.6h0M114.0 66.2h0M100.4 82.5h0M157.9 46.1h0M155.0 88.2h0M124.6 44.1h0M108.7 74.9h0M144.1 96.1h0M150.3 61.3h0M147.4 67.5h0M116.4 45.7h0M159.8 47.3h0M158.5 81.6h0M132.9 33.5h0M153.9 98.3h0M121.1 41.2h0M171.9 71.3h0M126.5 94.4h0M135.7 77.9h0M132.3 52.1h0M148.8 49.8h0M96.0 56.6h0M175.7 91.7h0M200.6 89.4h0M131.5 78.2h0M117.8 83.9h0M131.1 73.7h0M120.4 65.3h0M125.2 74.3h0M112.0 34.9h0M107.5 91.0h0M140.7 78.4h0M171.4 74.3h0M155.8 57.4h0M100.4 81.6h0M140.5 80.5h0M114.8 65.2h0M145.6 96.1h0M136.9 70.9h0M86.6 84.8h0M131.3 95.6h0M140.6 60.3h0M154.5 63.1h0M129.4 101.1h0M169.0 70.6h0M164.4 85.8h0M158.4 69.2h0M144.9 76.9h0M158.0 75.8h0M128.4 66.7h0M155.1 47.4h0M142.8 84.3h0M147.5 62.2h0M142.4 58.0h0M169.0 60.3h0M99.0 42.7h0M150.9 72.7h0M130.5 40.5h0M139.1 50.5h0M125.6 68.3h0M122.7 74.9h0M123.5 58.5h0M137.0 99.2h0M184.7 88.2h0M123.5 68.4h0M167.2 85.3h0M100.0 67.1h0M123.5 84.2h0M159.9 57.0h0M140.8 108.3h0M129.1 58.4h0M182.0 67.5h0M155.6 41.8h0M190.3 89.0h0M152.4 83.2h0M129.8 58.4h0M101.5 76.1h0M175.7 86.3h0M167.3 83.3h0M118.7 40.9h0M159.9 71.8h0M169.1 62.6h0M119.7 77.7h0M128.3 33.9h0M126.9 49.9h0M113.6 56.8h0M168.1 117.7h0M188.7 59.6h0M173.2 66.8h0M153.6 54.2h0M141.0 33.2h0M190.4 52.3h0M158.5 56.1h0M150.1 43.7h0M133.1 87.5h0M158.7 27.7h0M150.5 79.2h0M126.0 61.7h0M136.5 76.8h0M167.2 96.9h0M151.6 110.1h0M118.0 105.6h0M136.1 84.4h0M139.7 70.1h0M118.7 76.5h0M196.5 71.5h0M142.4 68.5h0M161.8 64.1h0M142.9 72.9h0M177.4 88.3h0M115.2 55.2h0M143.5 86.1h0M199.2 65.0h0M180.2 98.1h0M158.2 36.4h0M96.0 55.6h0M162.0 90.6h0M140.3 90.1h0M158.3 100.2h0M100.9 51.0h0M117.7 46.5h0M186.6 49.0h0M121.1 60.0h0M166.4 58.7h0M162.5 79.9h0M118.7 42.3h0M186.3 53.4h0M114.7 76.2h0M144.4 48.8h0M172.0 87.5h0M150.4 52.5h0M119.9 25.5h0M153.1 76.5h0M118.7 68.9h0M97.8 81.1h0M131.7 58.0h0M159.5 65.6h0M169.3 79.1h0M173.7 70.8h0M85.9 96.7h0M98.0 90.1h0M144.8 86.7h0M116.0 69.2h0M123.5 47.3h0M126.7 95.0h0M161.2 67.7h0M140.8 70.9h0M150.6 72.1h0M97.5 87.5h0M161.6 43.0h0M139.2 66.3h0M127.4 79.5h0M135.8 62.4h0M117.7 62.4h0M115.5 69.1h0M178.1 89.4h0M170.3 87.8h0M143.4 61.3h0M171.8 45.5h0M132.9 116.8h0M143.6 96.9h0M126.6 80.7h0M145.6 37.6h0M126.4 92.0h0M174.4 55.6h0M149.6 67.7h0M109.8 74.9h0M121.0 50.5h0M120.8 47.7h0M166.6 69.7h0M149.8 62.6h0M144.7 62.7h0M114.1 36.3h0M145.0 89.5h0M149.2 102.0h0M106.8 62.6h0M126.6 94.0h0M188.0 57.2h0M162.4 63.1h0M116.5 65.8h0M115.4 100.7h0M158.7 93.1h0M164.3 70.0h0M169.9 104.1h0M115.8 84.7h0M151.8 64.5h0M135.5 79.2h0M158.3 81.9h0M132.2 40.4h0M178.0 95.4h0M128.0 67.4h0M164.4 31.1h0M156.3 119.0h0M150.2 53.3h0M197.3 68.3h0M148.6 59.1h0M147.8 30.3h0M108.9 37.0h0M127.1 98.7h0M122.0 28.8h0M123.2 60.8h0M142.7 95.5h0M158.4 57.5h0M129.9 36.9h0M176.8 94.5h0M145.4 49.3h0M160.9 78.4h0M147.1 43.6h0M149.4 56.1h0M162.6 80.6h0M154.7 59.0h0M183.4 84.4h0M176.7 85.7h0M160.6 76.3h0M114.6 29.7h0M118.2 81.0h0M167.2 71.9h0M145.4 106.7h0M132.5 30.4h0M102.0 61.2h0M161.6 83.6h0M137.1 85.3h0M141.7 52.8h0M133.0 84.0h0M152.1 54.7h0M125.4 67.2h0M121.8 70.2h0M146.0 59.9h0M138.6 70.9h0M115.1 65.8h0M147.3 75.3h0M155.0 65.3h0M119.2 79.5h0M149.6 59.6h0M153.2 76.5h0M137.1 42.3h0M132.6 58.4h0M127.5 65.2h0M124.2 69.9h0M153.3 60.7h0M146.5 64.7h0M156.6 58.9h0M149.1 58.2h0M142.1 65.9h0M153.9 50.1h0M120.5 80.0h0M144.3 83.1h0M124.9 68.1h0M147.3 83.8h0M138.3 61.5h0M148.8 65.0h0M128.7 73.7h0M112.9 55.8h0M157.7 61.0h0M134.6 69.7h0M154.4 71.3h0M125.8 60.3h0M153.4 64.8h0M130.4 74.8h0M154.6 87.9h0M124.3 58.9h0M129.5 69.6h0M132.5 77.2h0M102.2 75.7h0M130.2 63.2h0M146.8 68.0h0M125.2 81.1h0M146.9 61.1h0M141.9 54.9h0M122.2 63.0h0M144.0 67.0h0M128.4 52.1h0M116.1 82.1h0M144.1 57.9h0M155.2 71.4h0M133.4 59.8h0M154.6 69.3h0M161.3 69.7h0M131.0 60.0h0M129.4 68.6h0M142.5 72.1h0M145.2 55.4h0M136.2 56.5h0M145.6 52.8h0M131.1 57.4h0M130.6 63.4h0M159.6 63.4h0M119.4 63.0h0M149.2 71.6h0M142.3 86.1h0M154.1 66.9h0M155.6 52.5h0M136.7 57.3h0M141.4 82.3h0M132.2 82.0h0M125.1 80.4h0M115.9 57.5h0M152.6 65.1h0M141.0 65.9h0M141.5 64.2h0M125.7 63.1h0M140.5 56.9h0M145.4 83.8h0M116.7 60.5h0M135.2 66.2h0M140.3 58.7h0M138.5 66.1h0M137.8 81.5h0M140.8 51.1h0M117.7 72.0h0M134.4 59.8h0M120.6 62.9h0M137.8 59.1h0M134.2 74.9h0M149.7 71.5h0M136.6 52.3h0M149.6 81.1h0M156.3 77.7h0M142.8 69.8h0M138.8 78.6h0M135.3 87.6h0M149.6 62.8h0M139.0 49.8h0M129.0 63.0h0M172.3 57.8h0M151.5 66.8h0M135.0 72.3h0M111.9 75.5h0M165.3 69.0h0M138.2 67.6h0M148.0 61.1h0M140.6 71.1h0M134.3 69.9h0M143.5 73.2h0M125.6 60.6h0M133.2 78.1h0M142.4 49.3h0M121.6 85.5h0M143.6 53.0h0M126.6 67.4h0M158.4 82.3h0M134.0 63.0h0M165.1 56.1h0M160.3 69.4h0M140.3 79.0h0M145.6 57.6h0M118.3 66.2h0M146.0 79.8h0M103.5 79.5h0M147.4 81.3h0M149.8 68.2h0M144.9 70.0h0M130.5 64.9h0M140.7 61.5h0M119.1 51.4h0M145.9 71.3h0M140.5 54.2h0M150.6 62.1h0M110.8 81.8h0M118.7 88.7h0M146.2 61.6h0M107.0 58.9h0M159.1 79.7h0M142.5 48.7h0M133.8 63.1h0M145.3 64.7h0M143.7 49.5h0M130.3 80.5h0M119.2 75.3h0M170.4 72.6h0M120.1 78.6h0M113.8 69.4h0M133.4 78.5h0M155.0 67.9h0M163.4 75.9h0M132.5 56.1h0M172.5 61.9h0M144.6 64.8h0M132.6 49.8h0M137.0 64.8h0M152.4 60.8h0M117.7 55.2h0M138.5 68.5h0M148.9 62.1h0M146.3 67.5h0M162.0 65.4h0M141.0 71.7h0M155.6 56.7h0M132.6 63.2h0M110.0 79.2h0M153.6 66.2h0M166.5 81.9h0M151.3 51.7h0M159.8 70.2h0M122.7 66.5h0M149.3 76.0h0M141.4 60.7h0M149.4 58.3h0M138.0 73.7h0M119.4 69.8h0M112.4 56.6h0M122.3 65.1h0M148.7 65.5h0M151.4 67.0h0M136.2 71.0h0M135.8 67.4h0M153.2 60.2h0M154.7 54.8h0M136.0 48.4h0M131.8 82.1h0M143.9 78.9h0M119.0 55.8h0M145.4 74.4h0M150.4 49.1h0M146.0 65.3h0M140.6 70.8h0M135.2 48.9h0M124.5 51.4h0M121.1 64.6h0M156.8 58.8h0M128.6 54.4h0M115.5 66.7h0M132.4 63.6h0M125.9 70.9h0M122.6 71.6h0M130.0 74.0h0M126.9 70.5h0M145.0 65.2h0M161.3 67.8h0M126.9 73.0h0M127.8 60.5h0M139.2 67.8h0M162.2 48.3h0M135.5 77.4h0M136.8 69.3h0M159.8 53.5h0M139.6 74.0h0M131.0 48.2h0M125.4 68.0h0M141.6 84.7h0M157.1 50.3h0M153.1 75.3h0M161.1 64.5h0M131.4 67.5h0M160.1 72.3h0M162.1 74.0h0M131.0 55.7h0M134.2 62.8h0M126.6 60.2h0M139.1 90.1h0M138.1 60.7h0M140.7 75.5h0M127.9 61.9h0M115.2 73.1h0M148.3 81.2h0M122.7 88.1h0M150.9 63.2h0M133.7 62.9h0M122.5 73.8h0M130.7 58.7h0M146.0 67.1h0M131.0 63.6h0M132.3 79.7h0M152.7 58.6h0M138.5 79.9h0M135.1 84.1h0M145.1 72.8h0M110.7 74.6h0M143.6 71.9h0M145.6 71.4h0M132.1 75.2h0M139.9 55.3h0M125.1 67.6h0M143.6 43.6h0M110.8 76.7h0M138.8 95.0h0M118.1 63.5h0M130.8 71.7h0M158.2 82.4h0M125.2 78.6h0M122.4 69.1h0M141.3 72.3h0M128.1 79.6h0M138.1 65.8h0M135.4 55.2h0M148.9 69.4h0M145.2 85.0h0M127.2 63.1h0M139.1 74.7h0M136.6 75.5h0M145.2 48.1h0M129.7 45.3h0M135.1 61.8h0M147.1 67.7h0M138.1 78.9h0M147.1 53.5h0M129.6 69.3h0M162.3 64.0h0M136.7 68.7h0M149.7 65.1h0M143.0 61.7h0M131.5 57.9h0M148.0 60.3h0M146.5 70.1h0M125.8 53.6h0M136.8 74.2h0M173.6 81.7h0M157.6 69.9h0M133.7 71.5h0M109.2 75.5h0M139.1 72.3h0M124.9 54.8h0M130.2 65.6h0M143.8 62.4h0M143.8 72.9h0M123.1 65.0h0M117.7 60.4h0M151.4 58.7h0M164.5 71.2h0M144.3 100.9h0M144.0 109.6h0M134.4 95.4h0M126.0 116.9h0M130.7 96.0h0M124.0 85.3h0M126.7 102.8h0M126.8 93.4h0M138.2 104.0h0M127.5 102.7h0M120.5 97.1h0M134.7 96.3h0M118.5 118.4h0M152.3 84.7h0M134.5 88.9h0M137.0 88.6h0M140.4 104.7h0M154.7 110.5h0M127.2 108.3h0M127.2 99.0h0M126.6 84.6h0M140.7 82.2h0M130.0 104.6h0M134.5 86.2h0M124.8 106.0h0M147.0 114.0h0M126.9 106.7h0M111.6 98.8h0M142.0 94.4h0M128.4 91.4h0M147.2 88.4h0M121.4 97.1h0M129.0 118.5h0M167.3 122.9h0M168.8 128.7h0M167.4 126.7h0M168.3 121.3h0M160.1 124.9h0M160.6 130.4h0M168.2 128.6h0M162.7 120.7h0M168.7 119.8h0M167.5 126.3h0M169.7 127.2h0M166.5 124.2h0M157.6 125.3h0M169.4 132.1h0M172.7 122.2h0M161.4 130.4h0M167.5 119.6h0M163.3 134.6h0M157.1 127.7h0M163.8 122.0h0M157.7 123.5h0M153.5 124.7h0" stroke="#00ff00" stroke-width="5.8" stroke-linecap="round" fill="none"/>
<path d="M134.7 132.4h0M190.0 123.7h0M133.5 18.6h0M129.5 20.5h0M137.5 21.0h0M108.0 25.2h0M116.5 22.6h0M159.5 23.5h0M162.5 27.0h0M103.0 29.5h0M122.0 22.0h0M172.0 29.5h0M183.0 33.5h0M78.0 49.0h0M72.0 62.0h0" stroke="#00ff00" stroke-width="5.8" stroke-linecap="round" fill="none"/>
<path d="M217.0 85.0h0" stroke="#000000" stroke-width="5.8" stroke-linecap="round" fill="none"/>
<path d="M220.3 85.3h0" stroke="#00ff00" stroke-width="5.8" stroke-linecap="round" fill="none"/>
</g><g id="dotsB">
<path d="M492.1 78.1h0M440.9 96.5h0M405.4 84.7h0M438.8 59.4h0M471.0 74.4h0M436.9 87.4h0M411.8 66.3h0M412.2 72.6h0M466.8 62.6h0M486.6 84.0h0M476.2 62.6h0M494.9 94.5h0M492.1 76.6h0M458.1 61.4h0M400.5 76.2h0M461.4 52.4h0M431.9 98.5h0M442.5 87.0h0M441.0 112.5h0M439.8 63.0h0M475.2 105.7h0M403.6 82.5h0M467.7 116.5h0M471.2 67.6h0M473.5 114.6h0M429.9 105.3h0M444.9 85.7h0M427.2 96.1h0M457.4 103.2h0M467.4 60.5h0M494.3 92.9h0M471.0 107.6h0M420.2 71.7h0M475.4 73.2h0M429.7 104.2h0M497.6 87.1h0M453.7 57.4h0M425.3 74.0h0M438.0 77.0h0M417.1 71.0h0M408.8 89.4h0M456.6 113.3h0M409.3 99.2h0M486.1 68.4h0M412.4 88.2h0M459.3 94.2h0M477.9 72.7h0M420.3 76.0h0M469.8 111.5h0M439.7 56.3h0M480.7 98.6h0M428.7 94.6h0M483.7 109.1h0M422.7 66.3h0M436.6 77.1h0M496.3 89.7h0M521.5 92.9h0M479.3 82.4h0M430.8 101.9h0M438.6 110.3h0M435.7 88.0h0M466.3 72.5h0M495.1 95.4h0M508.0 93.2h0M480.8 63.6h0M441.3 66.6h0M410.2 97.5h0M505.1 102.7h0M465.2 57.2h0M499.9 103.7h0M439.1 66.0h0M454.1 48.5h0M490.5 80.7h0M451.2 99.0h0M437.1 107.6h0M495.3 85.0h0M450.5 84.5h0M437.3 48.1h0M494.5 88.5h0M423.0 97.2h0M507.3 88.8h0M425.9 84.3h0M448.7 60.1h0M418.4 59.7h0M436.1 82.3h0M460.5 112.6h0M473.5 90.3h0M474.6 102.4h0M425.2 92.0h0M430.2 69.3h0M430.4 58.0h0M439.1 72.0h0M443.9 64.6h0M495.4 78.4h0M422.9 105.2h0M463.1 84.0h0M411.0 64.2h0M479.1 93.2h0M480.5 88.9h0M446.4 43.6h0M405.3 101.1h0M418.4 66.4h0M446.9 114.8h0M430.4 85.1h0M446.9 46.2h0M413.5 60.8h0M482.1 90.2h0M466.4 108.0h0M427.9 50.1h0M405.5 66.7h0M515.6 91.8h0M475.5 81.4h0M472.0 87.3h0M405.9 101.4h0M427.7 86.3h0M467.0 65.9h0M452.6 82.3h0M499.7 82.2h0M492.5 90.3h0M472.3 74.0h0M426.4 102.1h0M425.1 96.2h0M461.5 73.0h0M491.1 97.4h0M486.0 78.6h0M458.9 81.7h0M418.3 74.4h0M442.3 79.0h0M467.1 69.9h0M433.3 66.8h0M438.4 98.9h0M462.1 103.3h0M423.0 68.2h0M449.3 69.6h0M482.3 86.8h0M467.7 85.7h0M404.1 99.1h0M445.8 90.7h0M445.2 60.6h0M431.8 77.9h0M423.6 103.3h0M405.2 72.0h0M501.5 96.4h0M430.1 50.4h0M473.0 108.8h0M415.5 77.4h0M493.4 79.7h0M477.9 108.6h0M417.4 57.7h0M413.6 80.0h0M474.2 75.7h0M492.7 82.1h0M437.0 106.4h0M447.8 74.9h0M429.9 99.0h0M409.2 75.4h0M465.4 102.4h0M420.3 60.9h0M405.4 69.9h0M465.2 82.2h0M408.3 85.5h0M455.7 64.8h0M507.9 94.7h0M411.9 102.9h0M412.6 88.1h0M479.9 108.3h0M430.9 109.1h0M410.1 103.0h0M477.5 88.3h0M409.5 58.6h0M503.3 82.8h0M474.0 57.6h0M471.9 108.1h0M445.1 73.6h0M474.2 64.3h0M459.4 96.5h0M437.7 87.1h0M480.6 61.7h0M429.8 79.8h0M467.4 56.3h0M443.4 58.8h0M404.7 89.8h0M455.0 94.0h0M416.8 67.9h0M502.0 93.8h0M424.5 59.0h0M399.3 90.5h0M472.9 113.8h0M470.4 113.3h0M458.8 80.4h0M433.3 76.1h0M421.9 89.1h0M464.3 77.0h0M490.3 86.9h0M483.7 79.0h0M399.9 75.0h0M508.6 87.4h0M417.4 95.9h0M482.8 104.2h0M406.9 76.0h0M403.7 83.7h0M440.1 50.2h0M484.3 91.0h0M468.8 114.8h0M439.4 92.3h0M491.5 75.7h0M432.5 72.5h0M416.5 77.7h0M431.3 101.3h0M461.1 109.3h0M490.7 88.9h0M460.6 92.5h0M466.0 53.0h0M437.1 107.8h0M472.3 79.9h0M491.6 78.4h0M447.2 83.3h0M518.5 91.6h0M433.5 104.0h0M483.5 87.6h0M429.6 71.7h0M444.2 44.3h0M514.1 94.2h0M461.6 82.7h0M443.7 94.3h0M467.7 78.8h0M430.2 56.3h0M486.2 66.0h0M443.9 44.1h0M463.2 116.5h0M447.9 72.9h0M477.8 81.2h0M500.9 91.1h0M444.5 76.8h0M471.3 98.6h0M416.4 100.3h0M492.5 82.9h0M480.6 92.8h0M419.3 65.7h0M439.3 108.4h0M443.8 69.8h0M480.7 74.1h0M457.6 116.5h0M432.7 81.1h0M414.9 79.5h0M401.1 91.3h0M414.9 59.3h0M452.3 99.9h0M454.2 72.3h0M449.7 80.7h0M469.6 66.8h0M487.0 67.9h0M453.9 64.0h0M467.5 61.0h0M486.1 71.8h0M457.1 83.7h0M492.7 91.5h0M420.0 53.0h0M485.0 66.0h0M428.4 53.0h0M414.6 93.9h0M473.7 58.6h0M505.2 93.4h0M453.3 87.8h0M484.3 74.2h0M407.5 67.9h0M445.7 68.5h0M464.8 58.7h0M488.4 79.8h0M513.8 88.5h0M479.3 73.8h0M452.8 50.0h0M469.5 60.5h0M473.2 109.8h0M435.0 85.3h0M432.6 106.1h0M423.4 91.1h0M470.5 64.7h0M405.9 77.9h0M466.1 105.1h0M422.6 53.2h0M436.5 103.8h0M426.6 90.0h0M491.3 78.7h0M410.3 76.8h0M470.8 72.5h0M442.2 61.3h0M477.0 83.3h0M483.9 88.2h0M424.5 71.3h0M405.2 85.6h0M424.8 95.5h0M418.6 94.6h0M479.0 96.4h0M487.9 70.6h0M498.9 87.2h0M441.0 105.4h0M487.3 106.9h0M448.7 103.2h0M484.0 82.2h0M497.5 93.6h0M450.8 86.9h0M470.2 115.8h0M464.0 82.2h0M457.8 71.8h0M498.5 82.5h0M443.1 46.0h0M407.6 82.2h0M419.9 99.4h0M440.6 80.2h0M436.1 109.1h0M448.3 72.4h0M425.4 77.6h0M485.1 78.5h0M434.2 82.8h0M431.9 79.9h0M418.7 63.1h0M426.7 87.0h0M410.3 80.6h0M469.6 63.4h0M496.3 88.5h0M518.7 87.8h0M419.9 53.2h0M490.7 104.4h0M403.5 72.2h0M433.5 76.3h0M496.2 100.7h0M432.8 88.7h0M446.0 76.9h0M467.1 92.7h0M399.7 76.3h0M400.4 72.4h0M402.3 70.4h0M402.3 68.2h0M403.4 65.4h0M405.2 61.2h0M407.8 60.1h0M410.2 57.8h0M411.0 56.6h0M413.8 55.3h0M417.0 54.2h0M420.1 53.0h0M423.4 50.2h0M425.7 50.9h0M428.3 49.7h0M430.8 48.8h0M434.0 48.0h0M436.6 48.3h0M440.0 49.2h0M454.7 49.5h0M457.8 51.0h0M460.5 51.4h0M463.7 52.6h0M447.0 40.5h0M479.0 53.7h0M494.5 59.0h0M517.0 77.6h0M528.7 84.6h0" stroke="#00ffff" stroke-width="6.6" stroke-linecap="round" fill="none"/>
<path d="M490.9 101.1h0M480.2 98.8h0M490.1 85.6h0M461.8 94.6h0M465.7 81.3h0M475.1 81.3h0M429.5 79.6h0M511.5 87.7h0M437.0 99.3h0M466.8 95.7h0M484.8 83.2h0M510.3 84.1h0M489.7 118.0h0M504.6 80.6h0M500.4 107.4h0M460.4 120.5h0M492.5 106.4h0M452.6 95.9h0M465.4 78.7h0M505.7 108.0h0M486.9 96.6h0M473.2 106.2h0M449.2 93.0h0M485.7 77.2h0M489.6 84.9h0M474.1 107.6h0M443.7 110.6h0M433.6 94.5h0M494.2 114.0h0M442.5 98.6h0M441.9 91.2h0M442.6 105.3h0M491.0 96.4h0M476.2 113.4h0M497.4 106.5h0M412.4 94.7h0M437.0 102.6h0M452.2 93.3h0M469.0 101.4h0M510.9 82.7h0M437.7 76.8h0M435.2 94.3h0M482.5 83.8h0M416.2 104.9h0M422.4 106.1h0M485.0 79.6h0M461.7 78.4h0M508.7 104.0h0M487.2 103.4h0M497.7 96.9h0M475.3 95.5h0M494.9 98.0h0M438.0 97.0h0M467.0 118.6h0M490.6 78.3h0M465.5 101.1h0M473.9 93.6h0M465.6 107.5h0M509.9 97.0h0M498.3 107.0h0M442.3 87.1h0M463.4 83.5h0M449.2 108.2h0M500.6 85.0h0M454.4 86.9h0M460.2 109.9h0M496.2 76.2h0M428.9 86.3h0M426.1 94.5h0M420.7 105.3h0M453.9 80.6h0M486.6 85.5h0M494.7 119.1h0M440.0 81.6h0M438.7 91.3h0M501.7 111.2h0M426.4 80.2h0M409.7 99.1h0M499.0 82.9h0M421.7 88.8h0M498.9 98.7h0M500.0 86.0h0M491.1 96.4h0M495.9 77.6h0M438.2 78.4h0M506.2 108.4h0M435.6 112.1h0M490.5 107.2h0M481.2 107.9h0M511.8 87.5h0M466.8 105.2h0M466.4 112.4h0M470.1 90.7h0M444.9 89.5h0M431.3 84.5h0M493.9 119.5h0M459.3 117.1h0M419.9 97.0h0M493.6 113.1h0M451.1 75.7h0M482.7 86.6h0M418.5 100.3h0M483.9 111.6h0M472.8 111.4h0M474.1 101.9h0M488.9 109.8h0M484.3 81.0h0M462.9 112.4h0M481.2 121.0h0M454.9 106.2h0M465.6 114.0h0M516.7 86.4h0M429.9 74.4h0M431.1 91.1h0M489.1 122.6h0M455.8 105.6h0M440.7 97.6h0M462.0 88.2h0M469.2 87.3h0M476.9 81.2h0M457.0 97.6h0M450.1 99.9h0M465.2 111.5h0M501.7 110.4h0M450.4 108.9h0M428.8 103.1h0M425.8 87.0h0M478.1 116.8h0M517.0 92.8h0M497.9 105.0h0M497.4 74.6h0M414.9 97.4h0M477.2 107.4h0M426.3 100.1h0M485.1 92.4h0M454.8 94.0h0M438.3 76.1h0M512.0 87.6h0M509.2 99.8h0M489.6 92.9h0M434.0 99.9h0M445.3 91.1h0M467.6 99.9h0M462.8 112.0h0M487.7 99.0h0M420.6 93.5h0M421.1 92.0h0M412.1 102.5h0M432.2 78.8h0M480.8 121.9h0M474.3 95.2h0M446.9 97.4h0M463.5 96.0h0M463.5 93.2h0M453.3 95.8h0M427.9 94.6h0M436.7 113.8h0M462.5 78.8h0M492.5 100.6h0M494.7 94.3h0M429.6 81.0h0M427.8 103.8h0M475.8 97.1h0M497.1 97.8h0M442.4 106.3h0M493.9 91.8h0M504.8 106.3h0M500.6 86.1h0M493.8 101.9h0M493.4 93.0h0M419.8 99.6h0M436.5 81.5h0M509.3 103.2h0M494.0 115.3h0M457.0 93.0h0M456.4 87.3h0M440.5 108.9h0M486.5 112.9h0M490.6 85.1h0M495.5 117.0h0M456.7 82.2h0M449.9 97.7h0M467.7 83.5h0M490.4 107.9h0M452.2 117.8h0M467.2 79.4h0M483.0 96.5h0M469.1 116.8h0M486.1 121.3h0M494.9 89.3h0M467.3 113.2h0M411.9 98.4h0M472.6 109.3h0M445.7 102.5h0M492.6 88.8h0M486.1 120.6h0M449.0 97.6h0M462.6 116.7h0M437.1 83.0h0M451.7 105.3h0M464.9 110.1h0M450.9 100.4h0M474.9 93.5h0M445.1 105.1h0M425.7 95.1h0M437.2 100.0h0M486.9 97.1h0M494.3 103.5h0M462.6 111.8h0M516.5 86.9h0M506.2 79.5h0M503.2 92.7h0M459.1 95.9h0M449.3 79.5h0M487.4 103.8h0M515.9 82.8h0M439.9 100.8h0M431.8 75.9h0M457.9 82.8h0M485.3 119.5h0M420.9 91.8h0M448.3 109.9h0M455.0 104.7h0M420.7 102.7h0M492.7 114.0h0M478.8 87.8h0M444.1 115.0h0M455.9 92.5h0M442.0 109.7h0M506.7 89.9h0M455.2 114.4h0M488.9 116.0h0M468.3 89.2h0M447.8 113.3h0M485.1 106.5h0M461.9 99.8h0M500.7 95.7h0M461.6 95.1h0M492.6 110.4h0M444.8 112.9h0M449.7 106.6h0M450.4 86.9h0M456.6 102.4h0M511.1 100.4h0M490.5 111.4h0M490.8 78.8h0M464.4 96.9h0M448.3 95.4h0M496.8 88.7h0M476.1 99.8h0M493.0 83.8h0M485.7 88.0h0M498.1 95.6h0M511.6 97.5h0M481.9 116.2h0M511.0 89.0h0M491.5 116.2h0M448.2 91.1h0M448.6 86.4h0M454.0 117.2h0M499.1 99.6h0M481.4 83.8h0M496.0 118.8h0M450.4 96.0h0M431.0 80.8h0M506.4 104.7h0M458.2 104.6h0M447.5 100.6h0M427.0 98.5h0M443.7 81.5h0M493.1 87.5h0M493.3 111.2h0M505.3 99.1h0M474.0 107.3h0M470.3 120.8h0M478.3 90.3h0M479.2 90.6h0M473.3 116.2h0M442.0 80.8h0M436.9 97.8h0M439.4 88.3h0M481.2 87.1h0M410.2 100.9h0M487.2 75.3h0M494.6 104.4h0M474.5 96.7h0M483.1 95.8h0M452.3 116.5h0M440.8 90.3h0M446.0 91.9h0M452.8 78.3h0M447.2 113.7h0M427.4 94.6h0M438.8 100.8h0M462.9 76.9h0M481.9 106.8h0M431.3 79.6h0M441.1 85.5h0M499.2 89.5h0M459.4 77.8h0M440.9 95.2h0M466.2 114.4h0M490.9 110.9h0M436.3 80.8h0M463.7 87.5h0M414.2 99.3h0M460.9 113.8h0M508.8 85.1h0M468.8 101.3h0M458.6 115.4h0M488.9 115.4h0M435.1 96.3h0M469.7 101.1h0M506.7 99.4h0M493.1 110.6h0M479.1 121.3h0M424.5 104.3h0M469.3 93.3h0M467.9 81.0h0M423.0 90.0h0M424.8 93.8h0M509.2 85.2h0M495.0 95.0h0M490.7 120.8h0M456.9 96.7h0M506.0 88.7h0M429.3 74.1h0M515.6 84.4h0M487.2 92.0h0M498.8 101.8h0M515.7 88.4h0M487.3 109.9h0M486.9 112.0h0M413.0 98.7h0M492.3 91.6h0M426.7 91.5h0M477.2 118.0h0M511.1 85.3h0M486.8 105.0h0M479.4 115.6h0M425.0 104.6h0M438.2 95.1h0M491.1 100.2h0M494.2 98.8h0M481.5 86.7h0M451.1 115.7h0M458.1 98.2h0M418.9 105.7h0M486.7 75.6h0M500.3 94.4h0M449.3 108.4h0M448.5 75.7h0M491.5 78.5h0M480.1 104.8h0M428.7 103.8h0M470.4 103.1h0M427.0 94.6h0M504.5 103.2h0M434.0 85.9h0M461.9 96.8h0M459.2 83.3h0M495.4 77.5h0M442.8 97.3h0M494.6 96.4h0M421.0 106.5h0M471.1 101.9h0M448.9 110.5h0M498.1 107.9h0M426.5 93.6h0M446.5 103.1h0M487.2 93.6h0M467.9 116.8h0M416.4 102.0h0M442.7 111.6h0M490.0 90.9h0M488.4 99.9h0M434.1 107.6h0M501.0 81.7h0M512.5 84.6h0M498.0 88.1h0M459.5 101.3h0M500.8 90.9h0M512.0 78.7h0M425.3 83.2h0M410.7 100.3h0M478.8 89.6h0M499.9 98.8h0M421.1 101.9h0M449.9 106.5h0M495.8 82.5h0M444.1 97.4h0M475.6 90.3h0M450.4 90.3h0M490.2 92.5h0M489.9 119.0h0M501.9 90.2h0M456.0 102.1h0M494.3 81.1h0M453.0 90.9h0M489.3 82.9h0M447.3 96.2h0M433.2 91.7h0M494.0 96.3h0M472.9 79.6h0M451.1 99.6h0M448.4 76.7h0M470.9 98.7h0M453.7 103.7h0M510.1 85.0h0M509.5 102.0h0M494.7 89.3h0M443.5 107.6h0M472.6 121.2h0M424.1 86.4h0M487.3 120.8h0M460.5 113.5h0M418.0 104.5h0M444.2 107.8h0M440.4 76.9h0M437.0 109.6h0M489.8 121.2h0M501.2 81.1h0M490.4 95.3h0M432.0 111.1h0M459.7 119.3h0M501.0 98.1h0M452.7 98.0h0M422.8 100.9h0M437.3 88.8h0M460.4 83.2h0M425.4 106.2h0M431.5 82.7h0M448.4 95.4h0M473.3 103.6h0M435.7 87.2h0M457.9 119.6h0M497.4 94.8h0M502.2 92.0h0M451.5 104.5h0M454.6 117.7h0M436.2 97.8h0M446.1 99.2h0M451.5 86.5h0M460.5 87.8h0M508.2 87.9h0M485.9 76.3h0M469.5 82.0h0M513.7 87.9h0M445.6 99.1h0M503.1 100.1h0M504.0 104.6h0M482.2 84.0h0M495.8 97.7h0M496.9 106.9h0M504.9 108.0h0M456.7 96.0h0M503.9 101.8h0M460.5 114.5h0M434.8 102.6h0M447.1 102.5h0M511.8 90.5h0M504.4 94.1h0M443.3 94.4h0M473.2 79.1h0M481.8 104.5h0M440.2 71.8h0M439.5 78.5h0M437.8 110.9h0M506.3 104.1h0M476.9 91.5h0M502.9 98.1h0M446.9 95.7h0M461.1 76.9h0M485.1 116.4h0M453.2 112.2h0M420.6 96.3h0M486.3 98.1h0M488.8 75.6h0M476.6 97.5h0M508.8 76.8h0M490.7 88.6h0M488.3 108.1h0M457.1 94.0h0M490.1 74.7h0M511.6 85.8h0M419.7 101.5h0M433.6 92.3h0M428.8 109.7h0M492.7 107.4h0M490.2 98.9h0M483.0 116.0h0M465.4 83.2h0M484.2 104.1h0M465.9 93.3h0M514.4 88.5h0M423.5 95.6h0M463.3 89.1h0M498.6 80.8h0M432.8 109.7h0M437.6 90.5h0M460.9 80.5h0M493.1 98.9h0M486.2 81.4h0M451.9 111.3h0M442.6 76.8h0M469.1 120.2h0M456.4 79.5h0M501.6 91.0h0M457.8 119.0h0M440.3 92.9h0M469.2 105.1h0M444.8 103.9h0M455.2 116.2h0M471.3 109.8h0M473.2 108.0h0M448.3 85.4h0M467.4 94.8h0M507.2 90.4h0M445.9 92.0h0M496.6 93.7h0M397.7 67.2h0M418.0 107.3h0M431.7 115.8h0M479.0 123.3h0M487.7 124.5h0M451.5 65.8h0M454.0 65.2h0M456.3 64.6h0M436.8 69.3h0M434.0 71.0h0M440.0 71.5h0M431.0 72.5h0M443.0 73.0h0M437.0 73.0h0M428.5 75.5h0" stroke="#ff0000" stroke-width="6.6" stroke-linecap="round" fill="none"/>
<path d="M470.4 101.9h0M469.7 100.9h0M452.6 97.2h0M451.2 104.2h0M489.5 88.2h0M473.1 88.9h0M466.7 90.2h0M454.1 115.1h0M446.5 88.3h0M423.6 104.0h0M458.2 96.4h0M471.9 112.7h0M430.0 105.8h0M488.7 109.8h0M456.1 95.1h0M464.4 114.4h0M493.3 121.9h0M418.4 100.2h0M482.6 94.5h0M430.2 103.3h0M483.8 117.6h0M448.8 94.6h0M455.4 97.1h0M471.7 98.1h0M430.3 104.4h0M430.0 89.4h0M483.6 83.8h0M450.3 115.3h0M465.5 118.0h0M435.7 98.1h0M483.3 90.4h0M486.5 118.1h0M488.6 83.1h0M483.5 97.2h0M466.2 104.2h0M428.3 105.6h0M414.4 99.5h0M452.5 91.4h0M455.1 103.4h0M448.9 106.0h0M455.5 115.0h0M489.5 105.9h0M478.7 103.8h0M441.9 112.0h0M475.2 121.1h0M436.2 103.3h0M446.2 115.0h0M454.0 110.2h0M448.0 93.7h0M433.0 96.0h0M484.5 90.4h0M464.4 104.7h0M464.5 94.4h0M426.8 103.8h0M414.6 97.5h0M479.3 91.6h0M486.8 89.9h0M413.7 95.8h0M472.7 105.0h0M488.3 97.9h0M476.1 104.8h0M437.7 94.6h0M487.3 117.4h0M462.9 90.4h0M451.5 91.9h0M456.6 103.3h0M430.0 103.4h0M438.8 103.5h0M446.0 106.3h0M479.9 92.5h0M426.9 108.8h0M468.4 110.4h0M462.6 95.4h0M466.9 93.8h0M430.4 97.0h0M449.2 96.2h0M446.4 101.9h0M435.1 104.9h0M438.9 107.5h0M449.2 89.4h0M470.1 94.7h0M436.9 110.4h0M453.2 96.2h0M421.5 96.9h0M455.6 113.2h0M462.9 97.9h0M426.8 107.6h0M447.1 105.6h0M461.6 100.4h0M443.2 109.5h0M423.4 101.0h0M449.7 91.4h0M409.9 97.0h0M436.2 97.8h0M418.1 100.3h0M460.8 111.9h0M462.6 96.8h0M453.4 106.6h0M465.8 98.5h0M459.5 114.6h0M472.7 96.2h0M485.0 95.7h0M485.4 111.6h0M432.8 100.3h0M447.3 89.3h0M489.9 112.3h0M482.0 120.1h0M424.0 105.4h0M435.1 87.0h0M461.7 91.1h0M431.6 101.6h0M425.1 93.7h0M442.9 109.4h0M487.2 97.8h0M488.4 116.3h0M421.1 94.2h0M444.4 113.7h0M463.8 98.3h0M428.8 109.3h0M483.7 115.5h0M489.8 115.3h0M411.7 100.6h0M479.4 116.7h0M415.2 100.4h0M461.7 98.6h0M451.5 102.6h0M469.7 115.0h0M478.7 110.9h0M468.6 93.1h0M430.9 89.8h0M476.8 108.4h0M455.1 114.7h0M464.7 99.4h0M453.6 104.6h0M421.3 91.5h0M475.7 117.3h0M444.5 95.9h0M465.8 108.8h0M491.0 113.8h0M431.7 90.1h0M436.3 95.9h0M486.2 90.0h0M469.8 114.3h0M461.0 106.1h0M445.6 93.9h0M487.0 107.5h0M427.2 108.8h0M484.7 99.4h0M476.0 86.8h0M440.9 88.0h0M476.0 106.2h0M432.7 95.4h0M464.2 91.8h0M431.8 96.4h0M439.6 96.1h0M441.1 108.3h0M402.2 100.1h0M474.0 96.4h0M429.8 103.2h0M462.3 92.6h0M442.4 98.1h0M440.9 90.9h0M465.4 102.6h0M443.9 109.8h0M451.3 111.1h0M431.5 96.2h0M427.3 88.3h0M474.9 119.6h0M420.6 104.5h0M468.8 102.9h0M486.8 89.2h0M483.0 102.0h0M465.8 95.5h0M440.2 91.8h0M483.6 95.1h0M480.0 92.6h0M479.0 108.4h0M465.0 103.5h0M491.5 115.9h0M458.5 115.8h0M472.7 102.7h0M491.0 89.9h0M421.7 98.8h0M485.0 116.9h0M431.8 109.6h0M430.4 108.0h0M481.4 85.4h0M452.4 109.2h0M421.3 102.0h0M426.2 105.3h0M411.0 98.4h0M473.6 118.6h0M449.2 93.7h0M421.5 101.7h0M470.2 92.3h0M454.4 89.4h0M467.2 101.1h0M423.9 98.6h0M433.1 109.8h0M437.0 105.6h0M444.7 113.8h0M474.7 113.1h0M434.4 101.7h0M492.0 107.3h0M468.7 106.6h0M488.2 112.4h0M436.5 94.9h0M487.9 119.5h0M487.9 117.4h0M452.5 88.5h0M463.9 96.9h0M436.3 110.5h0M430.4 89.0h0M486.2 110.8h0M445.4 102.0h0M410.4 100.7h0M471.5 104.1h0M486.8 82.7h0M469.1 106.3h0M484.6 93.0h0M418.1 94.8h0M480.7 108.7h0M472.0 97.0h0M416.2 95.5h0M428.0 101.3h0M485.9 83.3h0M462.5 116.7h0M438.6 105.4h0M442.3 109.1h0M468.7 92.4h0M487.9 103.9h0M456.7 114.7h0M492.2 113.3h0M473.0 92.7h0M420.2 96.3h0M460.3 108.0h0M485.8 111.6h0M487.1 106.9h0M470.1 108.0h0M467.0 118.8h0M432.0 86.6h0M485.2 96.8h0M411.5 97.0h0M482.1 97.2h0M483.6 121.9h0M481.9 112.7h0M451.1 101.8h0M466.9 106.4h0M486.2 114.1h0M421.3 95.8h0M485.2 120.6h0M465.0 118.4h0M458.2 103.9h0M411.4 102.2h0M452.7 89.9h0M462.8 89.0h0M490.6 108.0h0M487.9 113.6h0M431.4 86.1h0M485.4 109.5h0M469.0 108.5h0M420.7 102.5h0M473.6 91.5h0M476.8 114.6h0M454.3 108.1h0M474.1 98.8h0M426.6 107.7h0M421.0 97.3h0M467.6 117.8h0M462.4 112.2h0M476.6 87.8h0M428.3 106.3h0M413.5 98.3h0M461.3 96.2h0M460.1 117.5h0M463.1 119.6h0M461.6 115.3h0M479.8 106.1h0M422.0 104.4h0M478.8 89.6h0M485.8 118.1h0M476.6 119.7h0M430.7 93.4h0M465.3 102.8h0M414.7 102.5h0M419.2 100.7h0M444.2 89.3h0M451.5 93.5h0M489.4 115.5h0M442.3 98.7h0M480.1 107.3h0M449.3 102.0h0M485.4 93.8h0M475.6 98.9h0M485.4 97.2h0M442.0 97.4h0M478.6 97.5h0M412.5 100.1h0M472.9 93.6h0M457.3 91.3h0M473.1 111.6h0M474.1 105.8h0M433.4 111.4h0M464.9 119.8h0M489.6 89.7h0M487.7 88.4h0M447.7 90.4h0M451.6 112.1h0M445.6 96.2h0M438.4 94.6h0M468.1 108.0h0M463.9 108.3h0M487.9 102.9h0M439.6 89.2h0M423.2 96.0h0M459.2 96.6h0M482.3 83.8h0M481.7 98.0h0M475.0 95.9h0M458.5 112.5h0M446.4 111.9h0M492.4 113.4h0M479.4 120.9h0M437.2 96.9h0M423.1 97.1h0M431.6 99.2h0M482.2 100.9h0M471.5 103.2h0M449.7 105.0h0M425.1 97.0h0M431.3 98.8h0M486.6 103.5h0M492.2 110.9h0M461.2 91.0h0M489.6 88.5h0M414.9 97.1h0M485.2 107.0h0M423.5 96.3h0M436.3 92.2h0M445.1 111.0h0M443.7 113.4h0M473.7 98.6h0M464.4 94.6h0M480.5 88.5h0M490.3 99.5h0M488.8 103.4h0M490.6 93.8h0M476.2 121.3h0M429.4 87.7h0M411.8 101.6h0M488.2 104.8h0M475.1 116.8h0M437.9 110.8h0M464.3 98.2h0M429.9 110.1h0M416.5 99.6h0M453.7 115.1h0M453.1 107.0h0M436.6 89.7h0M427.8 87.7h0" stroke="#2a2a2a" stroke-width="6.6" stroke-linecap="round" fill="none"/>
<path d="M514.3 94.8h0M503.9 102.9h0M453.1 89.9h0M499.4 117.9h0M448.9 95.1h0M504.4 120.5h0M491.0 83.5h0M458.4 104.1h0M481.7 84.8h0M495.2 105.4h0M462.8 90.9h0M448.4 96.8h0M497.4 108.9h0M459.2 109.2h0M524.9 99.0h0M470.6 109.4h0M520.7 109.5h0M499.7 86.6h0M480.2 94.4h0M516.6 83.9h0M437.8 112.0h0M512.3 85.1h0M448.6 108.1h0M446.9 97.4h0M479.9 102.5h0M487.0 84.4h0M497.2 108.6h0M492.6 86.2h0M497.8 117.3h0M481.6 86.3h0M478.3 103.3h0M502.4 117.7h0M472.6 108.1h0M527.5 97.1h0M489.7 96.2h0M469.2 89.2h0M504.9 114.8h0M501.0 97.7h0M490.7 95.9h0M485.2 100.1h0M459.9 96.6h0M522.6 90.3h0M476.8 87.2h0M477.4 98.6h0M481.5 99.2h0M463.0 93.2h0M439.9 105.3h0M452.1 102.0h0M481.3 107.1h0M522.9 109.6h0M517.0 108.3h0M508.4 99.9h0M524.3 93.7h0M446.6 100.3h0M526.9 100.8h0M518.8 89.6h0M477.6 88.4h0M490.9 110.4h0M489.2 104.6h0M518.0 88.3h0M528.1 98.4h0M489.0 107.6h0M523.4 91.7h0M522.7 91.7h0M500.8 84.1h0M496.0 90.9h0M441.1 112.3h0M495.7 102.6h0M489.3 106.2h0M450.1 100.3h0M454.2 92.8h0M507.2 86.4h0M525.0 91.7h0M458.8 98.6h0M451.1 114.3h0M521.9 110.7h0M499.2 84.8h0M489.6 89.3h0M451.3 103.3h0M447.0 98.9h0M476.0 94.6h0M448.6 94.9h0M486.0 85.8h0M462.7 101.8h0M527.7 99.7h0M483.4 93.0h0M441.2 99.3h0M493.7 93.4h0M506.2 106.8h0M484.2 105.6h0M487.5 87.5h0M465.2 111.0h0M470.7 101.9h0M453.0 106.7h0M508.2 115.0h0M502.7 98.9h0M456.9 110.3h0M473.0 92.0h0M441.3 105.6h0M503.6 113.4h0M495.9 82.7h0M495.2 89.0h0M465.2 107.7h0M510.5 108.6h0M492.3 109.6h0M487.6 87.2h0M523.0 92.5h0M449.1 104.2h0M480.8 101.8h0M462.2 108.8h0M500.3 88.9h0M512.3 95.0h0M481.2 90.0h0M485.8 101.7h0M448.7 102.0h0M499.3 83.8h0M521.6 86.6h0M525.5 108.1h0M494.2 82.6h0M487.7 107.1h0M477.3 93.7h0M516.2 86.6h0M518.2 94.8h0M518.7 87.9h0M460.4 101.8h0M452.5 88.9h0M505.3 114.4h0M465.8 99.0h0M490.5 104.9h0M525.3 103.7h0M463.0 99.7h0M441.0 104.7h0M460.2 102.1h0M473.7 103.8h0M435.9 105.9h0M493.2 85.6h0M522.6 106.1h0M468.1 103.1h0M506.0 104.6h0M492.3 94.9h0M465.8 108.0h0M475.8 97.7h0M468.8 90.5h0M449.5 107.7h0M484.8 107.1h0M498.6 95.7h0M483.7 106.7h0M497.6 93.3h0M512.4 82.7h0M521.9 100.0h0M491.5 87.4h0M484.6 90.6h0M467.3 87.3h0M475.2 97.4h0M489.4 93.8h0M456.6 87.8h0M501.8 86.5h0M507.0 84.6h0M521.2 91.5h0M468.3 95.4h0M508.1 80.0h0M448.3 112.2h0M503.7 98.7h0M450.4 91.6h0M464.6 88.5h0M493.6 107.8h0M517.3 117.0h0M485.2 90.9h0M505.3 101.1h0M496.9 92.5h0M478.2 102.8h0M473.2 97.8h0M506.3 117.7h0M452.4 100.5h0M509.3 111.7h0M479.6 92.3h0M505.3 101.5h0M512.7 103.9h0M509.8 102.9h0M487.0 99.8h0M481.3 100.5h0M435.8 108.0h0M450.2 109.8h0M495.6 86.4h0M477.5 96.8h0M447.8 95.5h0M435.7 110.5h0M470.9 101.2h0M444.1 112.0h0M501.6 81.5h0M516.7 85.7h0M445.0 110.9h0M478.9 88.5h0M501.3 90.6h0M518.3 84.0h0M498.2 102.1h0M504.7 99.1h0M521.8 112.4h0M504.8 84.6h0M516.2 110.8h0M509.2 113.3h0M502.0 94.2h0M452.9 97.7h0M456.4 111.8h0M516.6 112.2h0M463.0 104.3h0M462.1 102.8h0M484.8 83.8h0M517.7 115.5h0M510.7 80.9h0M453.6 112.5h0M513.8 106.1h0M527.0 97.0h0M452.8 99.3h0M460.7 94.8h0M511.1 92.0h0M503.8 105.0h0M520.0 107.6h0M518.4 107.2h0M508.4 90.6h0M498.8 108.0h0M463.6 88.6h0M496.8 106.8h0M451.4 110.6h0M506.8 103.8h0M484.6 102.2h0M485.5 96.8h0M499.7 98.9h0M520.5 99.9h0M471.1 95.6h0M468.7 89.7h0M443.7 107.7h0M483.4 97.2h0M507.8 100.6h0M487.7 108.5h0M495.5 112.3h0M490.2 88.7h0M442.2 106.5h0M514.7 116.0h0M490.9 88.3h0M457.7 99.7h0M512.6 114.2h0M513.0 104.6h0M520.6 111.9h0M477.8 101.7h0M487.3 103.9h0M481.8 85.6h0M508.1 84.3h0M495.0 85.4h0M493.0 88.4h0M436.8 108.1h0M505.7 120.1h0M495.4 83.4h0M497.7 82.7h0M457.0 98.1h0M499.2 109.3h0M490.3 95.0h0M486.4 102.6h0M454.1 94.9h0M491.6 94.7h0M509.6 104.9h0M458.9 108.8h0M513.7 86.4h0M453.0 96.2h0M491.1 89.3h0M505.2 83.7h0M489.5 104.3h0M477.8 103.1h0M490.4 95.9h0M448.8 94.9h0M460.6 91.1h0M511.3 102.7h0M522.8 106.1h0M496.6 97.0h0M516.7 98.1h0M447.9 106.6h0M500.7 98.9h0M497.5 96.7h0M489.4 92.9h0M477.9 96.5h0M515.3 117.3h0M452.7 108.6h0M460.4 93.5h0M513.3 93.9h0M525.0 99.8h0M480.0 98.8h0M516.8 108.6h0M440.4 107.6h0M520.5 99.3h0M473.9 107.4h0M440.9 108.4h0M501.7 82.9h0M468.2 106.3h0M517.0 85.7h0M487.7 105.6h0M487.0 105.2h0M469.2 87.9h0M499.1 118.4h0M500.6 108.1h0M450.3 95.4h0M486.1 105.2h0M518.2 98.4h0M523.3 110.3h0M471.1 106.0h0M446.4 93.5h0M513.7 84.0h0M485.6 89.6h0M496.9 82.1h0M499.4 88.1h0M495.7 86.0h0M511.1 113.8h0M510.7 116.4h0M511.5 98.2h0M503.2 104.6h0M452.6 88.9h0M502.9 120.5h0M495.0 112.9h0M495.8 83.5h0M455.8 104.4h0M508.2 96.6h0M502.0 92.5h0M472.5 104.3h0M501.5 94.7h0M514.9 108.5h0M500.5 92.3h0M449.5 107.9h0M446.0 97.2h0M438.4 101.7h0M470.5 90.7h0M507.8 111.9h0M436.0 105.2h0M452.2 92.2h0M455.7 100.5h0M514.2 113.6h0M496.0 89.3h0M454.4 100.9h0M505.4 102.6h0M512.5 81.4h0M495.7 86.7h0M503.9 85.2h0M461.3 93.0h0M520.1 103.6h0M441.4 110.1h0M504.7 103.8h0M529.1 99.3h0M460.6 90.9h0M474.1 101.0h0M441.0 109.7h0M505.8 94.5h0M446.5 112.5h0M472.9 102.8h0M501.8 86.2h0M515.3 105.7h0M500.8 108.7h0M460.2 89.6h0M491.6 89.9h0M523.8 101.3h0M506.2 93.0h0M499.7 95.9h0M483.9 85.0h0M467.7 96.3h0M507.0 84.1h0M449.8 107.4h0M516.3 112.7h0M466.1 101.3h0M520.6 85.7h0M459.0 103.3h0M502.2 107.6h0M461.5 92.9h0M468.6 90.5h0M450.8 100.2h0M484.4 92.2h0M460.1 97.7h0M501.4 88.9h0M495.6 97.9h0M451.3 114.2h0M518.3 94.4h0M454.5 88.1h0M513.2 91.0h0M490.0 85.8h0M524.5 101.2h0M484.0 100.0h0M503.7 99.3h0M489.5 90.9h0M490.2 101.0h0M529.1 94.8h0M495.1 109.4h0M512.6 110.9h0M515.1 92.7h0M512.5 105.2h0M508.8 110.0h0M462.4 107.8h0M458.1 102.8h0M519.1 104.8h0M452.0 98.1h0M467.1 106.7h0M509.5 92.8h0M461.4 110.2h0M499.1 88.8h0M450.5 98.7h0M509.3 116.1h0M517.4 97.9h0M507.1 104.5h0M494.6 92.4h0M513.7 118.1h0M513.6 88.9h0M498.4 95.2h0M498.2 113.6h0M518.3 111.6h0M512.1 90.2h0M490.8 104.3h0M489.9 101.3h0M520.5 86.1h0M507.0 102.1h0M495.5 88.6h0M513.9 87.4h0M495.5 89.3h0M493.9 103.4h0M505.9 81.7h0M499.5 106.5h0M500.9 94.4h0M494.7 99.4h0M502.0 93.3h0M512.8 118.5h0M506.1 82.3h0M504.4 114.6h0M506.8 82.9h0M499.4 89.6h0M503.5 93.2h0M516.4 109.3h0M522.5 115.5h0M521.1 87.6h0M517.3 83.5h0M516.5 89.4h0M523.2 114.2h0M508.2 109.5h0M515.4 105.1h0M503.7 107.8h0M495.1 98.8h0M516.2 97.5h0M501.1 102.1h0M509.1 87.9h0M525.3 92.5h0M493.0 108.6h0M491.4 99.1h0M503.7 109.6h0M505.6 110.1h0M501.7 114.4h0M508.3 86.3h0M511.8 96.2h0M522.6 95.8h0M516.1 85.0h0M503.4 117.3h0M509.3 96.7h0M514.3 104.2h0M499.9 115.7h0M507.5 111.5h0M510.1 104.1h0M520.4 89.7h0M517.3 110.5h0M521.6 88.5h0M524.7 106.1h0M527.4 102.7h0M496.1 102.6h0M516.2 95.9h0M498.8 108.7h0M513.2 90.0h0M502.6 90.2h0M510.8 91.6h0M511.3 91.8h0M494.2 108.4h0M505.7 91.0h0M518.3 116.6h0M504.3 109.8h0M489.6 102.2h0M514.5 92.0h0M506.0 96.8h0M504.0 88.1h0M511.3 107.2h0M499.8 99.5h0M498.2 107.4h0M505.7 103.8h0M505.8 100.8h0M506.5 93.7h0M523.4 92.3h0M521.2 97.5h0M494.1 103.5h0M500.7 88.6h0M508.4 112.8h0M516.3 92.6h0M494.6 103.7h0M497.1 110.7h0M513.3 89.3h0M508.7 119.3h0M507.5 81.2h0M508.0 94.6h0M526.3 101.4h0M504.8 81.1h0M491.5 108.9h0M506.9 117.3h0M517.6 108.4h0M522.5 102.4h0M517.6 85.5h0M515.3 94.7h0M502.9 93.0h0M510.0 81.4h0M511.3 87.2h0M528.0 93.3h0M510.4 91.0h0M501.6 89.5h0M519.4 95.4h0M524.0 93.6h0M494.5 98.7h0M510.4 103.5h0M498.0 87.7h0M510.4 98.3h0M508.8 107.3h0M517.6 86.6h0M502.7 92.8h0M526.5 97.0h0M518.1 83.9h0M515.2 98.4h0M524.5 113.4h0M493.0 96.5h0M495.2 105.0h0M509.7 84.2h0M492.6 99.1h0M514.5 96.7h0M508.4 105.9h0M517.5 108.8h0M506.1 87.4h0M497.7 88.1h0M513.3 105.4h0M493.4 101.1h0M512.5 108.0h0M492.4 109.6h0M500.3 95.9h0M514.2 113.0h0M510.1 84.9h0M505.5 83.6h0M504.0 119.5h0M499.5 92.9h0M504.9 107.3h0M521.3 94.7h0M507.2 96.9h0M504.7 104.8h0M495.3 111.3h0M524.4 102.3h0M497.3 95.8h0M507.5 88.4h0M526.4 110.5h0M501.0 89.6h0M500.8 96.3h0M515.7 111.5h0M497.3 95.7h0M527.7 98.8h0M518.3 113.7h0M507.9 95.6h0M520.6 106.1h0M527.7 100.0h0M524.3 106.1h0M512.1 114.7h0M492.6 91.7h0M509.0 113.3h0M496.9 111.7h0M492.9 94.5h0M508.0 109.1h0M510.4 114.5h0M517.2 95.9h0M510.3 96.1h0M524.5 92.7h0M496.7 90.3h0M499.5 112.9h0M517.0 90.3h0M506.3 116.3h0M517.1 117.5h0M522.4 103.4h0M495.7 90.0h0M498.3 94.3h0M514.1 92.6h0M498.0 115.3h0M493.9 105.8h0M505.7 99.3h0M524.4 110.3h0M522.0 112.2h0M518.8 115.3h0M511.1 116.1h0M492.9 90.9h0M522.4 112.2h0M498.4 103.3h0M507.0 110.0h0M505.4 93.3h0M520.0 108.3h0M503.9 109.1h0M499.9 100.5h0M496.9 94.3h0M506.2 84.0h0M501.9 94.6h0M502.5 100.8h0M501.3 85.9h0M519.9 110.0h0M525.9 96.5h0M505.5 111.2h0M492.8 98.0h0M511.6 106.5h0M527.3 93.3h0M511.0 98.8h0M525.9 99.9h0M519.5 89.9h0M503.3 98.0h0M506.8 91.8h0M528.7 95.7h0M517.0 88.8h0M502.8 112.4h0M510.6 89.9h0M508.8 102.1h0M497.3 98.4h0M526.8 98.4h0M517.2 98.2h0M497.0 106.8h0M497.0 99.0h0M495.5 97.0h0M528.3 104.4h0M510.0 105.2h0M515.7 104.6h0M500.9 89.0h0M513.8 117.7h0M524.4 100.0h0M501.3 104.0h0M491.3 100.4h0M508.7 104.9h0M494.6 99.9h0M504.7 108.9h0M506.3 87.7h0M509.9 102.0h0M516.9 111.0h0M505.6 95.1h0M520.6 98.9h0M510.8 90.5h0M527.3 92.7h0M502.3 82.9h0M509.4 114.4h0M518.3 100.6h0M502.2 91.1h0M513.6 99.2h0M494.4 100.2h0M514.5 115.0h0M509.0 100.4h0M517.4 88.6h0M513.3 100.6h0M501.4 100.4h0M496.6 106.2h0M494.0 98.4h0M491.6 102.1h0M501.4 118.7h0M502.6 86.3h0M516.3 90.2h0M522.1 99.6h0M500.2 104.1h0M498.4 91.1h0M492.7 90.0h0M498.2 86.9h0M506.1 98.5h0M513.3 102.5h0M516.8 105.0h0M508.3 114.7h0M495.1 91.5h0M524.8 96.8h0M523.3 103.0h0M502.7 91.7h0M506.1 118.7h0M508.2 95.0h0M490.4 95.9h0M526.6 97.3h0M521.4 116.4h0M527.1 109.8h0M509.4 92.5h0M515.5 108.1h0M494.8 93.6h0M507.7 90.6h0M507.8 81.0h0M521.3 97.2h0M500.6 90.6h0M502.1 104.5h0M518.1 97.7h0M518.1 103.4h0M522.0 109.7h0M503.5 85.1h0M522.8 87.1h0M526.5 94.2h0M495.5 108.4h0M496.8 95.0h0M507.0 105.8h0M510.2 107.0h0M514.4 97.6h0M509.3 94.4h0M522.9 102.4h0M517.4 113.3h0M517.4 116.0h0M507.6 108.4h0M525.0 100.0h0M522.4 91.7h0M495.8 114.6h0M511.6 119.0h0M513.5 90.8h0M499.6 87.1h0M510.6 109.2h0M512.5 82.4h0M520.8 107.5h0M502.5 117.4h0M509.3 111.2h0M493.1 92.8h0M519.8 107.9h0M517.6 108.2h0M501.6 100.5h0M493.3 97.6h0M495.0 93.9h0M503.2 85.0h0M497.5 116.2h0M505.7 118.3h0M501.8 101.3h0M510.6 96.7h0M529.2 96.6h0M521.4 100.8h0M503.4 114.3h0M513.5 110.7h0M509.8 96.7h0M518.3 86.8h0M508.5 88.5h0M524.1 111.9h0M505.3 111.9h0M511.2 106.7h0M499.0 111.4h0M499.9 96.6h0M520.7 90.9h0M520.2 114.5h0M496.1 109.6h0M501.1 91.4h0M503.6 111.7h0M515.1 95.9h0M516.8 113.0h0M497.3 115.1h0M510.3 105.9h0M524.0 89.0h0M508.2 108.9h0M490.0 96.2h0M511.2 98.5h0M509.7 114.0h0M494.0 109.3h0M500.7 83.8h0M508.0 85.7h0M507.8 87.2h0M507.3 86.0h0M507.2 104.7h0M516.5 85.7h0M523.5 95.4h0M492.7 97.7h0M514.4 94.9h0M518.7 93.0h0M506.3 101.8h0M504.8 87.9h0M513.1 85.3h0M496.1 97.2h0M528.2 107.4h0M515.4 117.1h0M512.8 110.1h0M508.4 112.3h0M515.1 83.4h0M519.8 97.8h0M494.9 114.2h0M499.3 116.5h0M504.8 102.8h0M507.3 111.0h0M503.6 101.0h0M498.6 94.0h0M493.8 91.0h0M500.6 108.1h0M495.2 86.7h0M528.5 106.2h0M519.9 104.9h0M528.1 101.9h0M493.0 99.0h0M511.6 113.9h0M493.2 95.0h0M491.2 104.1h0M496.7 89.5h0M502.3 90.4h0M501.3 89.5h0M503.2 104.1h0M512.0 109.7h0M512.4 93.0h0M497.8 96.9h0M527.4 104.5h0M511.3 108.5h0M524.2 110.9h0M508.3 117.6h0M492.7 106.4h0M494.1 97.5h0M494.6 92.6h0M491.5 102.1h0M493.1 90.2h0M520.7 92.2h0M512.7 115.1h0M515.0 113.3h0M526.3 93.4h0M498.5 115.0h0M498.4 111.3h0M494.5 100.5h0M512.5 102.8h0M517.9 114.6h0M510.4 89.9h0M521.5 97.7h0M499.9 111.4h0M520.1 113.5h0M509.3 81.1h0M490.4 102.6h0M490.9 105.4h0M494.8 111.5h0M508.5 101.2h0M523.5 91.8h0M504.2 104.4h0M520.7 110.3h0M517.0 114.7h0M496.6 97.0h0M508.3 113.7h0M499.5 104.6h0M519.4 94.2h0M500.2 83.9h0M514.7 96.9h0M497.4 93.3h0M502.2 85.5h0M513.2 86.7h0M498.1 94.9h0M497.9 114.3h0M527.1 93.7h0M521.5 105.7h0M511.7 116.7h0M516.4 106.4h0M527.1 98.7h0M518.5 99.3h0M451.0 51.0h0M452.0 56.0h0M430.0 65.0h0M471.5 57.4h0M495.2 68.6h0M483.4 76.2h0" stroke="#ff00ff" stroke-width="6.6" stroke-linecap="round" fill="none"/>
<path d="M372.3 78.7h0M374.5 86.2h0M369.1 93.9h0M387.8 96.0h0M375.6 90.4h0M390.7 76.1h0M382.4 78.3h0M398.0 90.8h0M384.5 92.7h0M387.5 80.9h0M368.7 79.3h0M381.8 77.9h0M368.1 82.0h0M378.5 100.0h0M386.7 87.8h0M392.1 78.0h0M378.5 86.2h0M389.2 91.3h0M389.1 77.3h0M375.7 96.5h0M378.7 86.1h0M389.2 78.3h0M380.1 76.2h0M385.8 90.5h0M401.4 79.9h0M392.3 95.0h0M388.6 83.6h0M386.0 93.3h0M382.0 95.4h0M381.8 77.0h0M368.0 81.7h0M375.3 77.1h0M387.2 78.8h0M377.7 95.7h0M403.1 84.7h0M388.7 82.8h0M369.0 93.9h0M370.9 78.3h0M391.5 84.6h0M400.8 84.6h0M400.3 91.7h0M390.7 80.1h0M376.0 93.0h0M393.3 94.1h0M368.1 87.3h0M373.5 76.5h0M381.5 76.7h0M396.2 92.6h0M377.1 97.5h0M366.6 87.4h0M390.0 85.5h0M388.4 88.1h0M389.0 82.5h0M402.1 88.7h0M371.3 90.7h0M400.2 88.0h0M376.0 89.4h0M395.5 78.2h0M405.9 85.2h0M381.0 88.6h0M368.5 87.7h0M365.5 78.7h0M391.3 81.2h0M392.7 88.4h0M386.1 84.3h0M382.4 98.0h0M382.0 89.4h0M389.8 88.9h0M364.1 84.2h0M368.9 96.5h0M394.5 76.7h0M403.9 84.2h0M378.2 89.0h0M372.6 91.2h0M380.0 79.0h0M363.2 84.7h0M382.9 85.1h0M399.1 79.3h0M377.9 79.7h0M398.4 91.9h0M376.0 94.4h0M368.7 87.5h0M399.8 83.3h0M365.4 93.5h0M395.2 91.4h0M407.1 84.0h0M385.9 86.6h0M404.3 82.8h0M371.5 84.0h0M368.7 97.9h0M391.5 79.7h0M376.4 98.1h0M404.9 89.5h0M381.5 92.8h0M373.8 78.7h0M384.6 87.4h0M384.7 94.9h0M368.5 97.2h0M376.0 84.9h0M381.3 83.3h0M386.6 98.9h0M368.0 94.3h0M380.7 86.9h0M372.0 79.0h0M375.4 79.1h0M392.1 90.2h0M391.5 89.0h0M384.1 83.1h0M375.2 82.8h0M385.8 86.3h0M387.9 93.3h0M391.1 90.6h0M382.7 86.8h0M384.2 83.3h0M376.6 90.5h0M380.9 93.1h0M388.4 89.0h0M386.3 81.2h0M398.2 82.6h0M376.4 92.6h0M377.6 91.4h0M368.0 84.9h0M371.7 93.6h0M385.5 92.3h0M399.4 83.6h0M373.0 92.9h0M375.2 88.0h0M392.2 89.8h0M370.1 85.1h0M371.3 96.7h0M395.6 77.6h0M402.1 83.3h0M402.4 80.6h0M379.7 82.0h0M387.0 89.2h0M374.3 90.8h0M383.4 90.7h0M370.1 87.7h0M375.1 76.3h0M385.7 100.2h0M400.2 93.4h0M394.7 94.3h0M378.1 99.3h0M380.7 97.3h0M369.8 89.3h0M402.4 90.1h0M391.8 79.4h0M380.9 99.2h0M371.1 84.1h0M386.2 87.5h0M392.5 88.6h0M373.3 85.5h0M407.2 85.7h0M380.0 99.0h0M365.1 81.0h0M385.3 76.0h0M396.7 91.9h0M376.0 77.4h0M373.3 79.6h0M388.4 81.0h0M371.0 91.9h0M379.3 81.2h0M401.3 80.0h0M392.8 93.5h0M387.2 75.9h0M377.1 83.1h0M392.5 81.9h0M383.7 92.8h0M373.4 76.7h0M393.5 92.8h0M403.8 91.0h0M369.5 84.8h0M393.7 83.1h0M396.5 80.9h0M385.6 92.0h0M400.1 80.1h0M398.9 89.4h0M392.3 97.1h0M379.1 86.0h0M392.0 89.9h0M395.2 83.4h0M370.6 94.4h0M361.9 87.5h0M376.8 83.1h0M372.4 98.4h0M383.0 89.6h0M365.0 89.8h0M392.5 76.4h0M376.8 80.8h0M382.1 84.1h0M391.9 82.0h0M393.0 88.0h0M383.2 97.2h0M398.1 81.2h0M375.4 85.3h0M364.8 93.2h0M376.4 82.6h0M370.3 80.3h0M382.9 89.5h0M390.6 77.8h0M370.1 85.8h0M400.6 90.5h0M369.2 92.8h0M389.5 77.2h0M374.7 94.9h0M398.1 85.9h0M374.0 76.1h0M370.9 93.0h0M386.0 90.2h0M380.9 90.1h0M388.6 82.4h0M378.3 77.6h0M370.9 90.8h0M379.5 78.1h0M373.7 88.4h0M369.2 90.6h0M384.0 79.4h0M394.9 92.4h0M400.1 91.9h0M375.1 85.8h0M388.6 79.9h0M386.8 84.7h0M372.9 86.7h0M383.2 76.4h0M407.9 88.6h0M402.1 91.3h0M379.1 84.0h0M376.7 81.1h0M374.2 93.8h0M383.4 79.4h0M368.9 77.8h0M380.3 78.8h0M404.5 89.7h0M385.0 87.1h0M388.8 97.0h0M381.7 75.9h0M396.3 86.8h0M375.5 79.1h0M381.6 81.5h0M384.8 90.3h0M380.3 91.0h0M380.8 88.0h0M384.6 98.7h0M406.4 90.7h0M399.1 81.9h0M367.4 82.3h0M366.1 96.3h0M370.4 76.6h0M399.8 90.3h0M367.2 83.3h0M387.3 92.3h0M366.8 81.0h0M368.8 84.5h0M385.9 76.4h0M393.9 85.2h0M401.9 82.6h0M363.1 88.1h0M385.5 98.8h0M371.8 86.0h0M371.3 84.6h0M399.6 89.8h0M364.5 83.7h0M371.0 81.9h0M376.8 99.4h0M365.7 85.8h0M397.4 80.9h0M365.7 89.5h0M399.5 83.8h0M368.0 97.6h0M390.2 84.5h0M384.4 90.1h0M389.0 80.4h0M395.2 92.0h0M370.9 87.6h0M408.2 84.8h0M369.8 88.8h0M401.7 86.7h0M376.7 76.1h0M403.8 86.4h0M382.2 84.6h0M396.2 79.8h0M386.1 87.1h0M365.8 78.5h0M376.9 81.3h0M376.1 98.6h0M402.3 84.1h0M397.2 94.0h0M388.9 91.6h0M383.4 85.9h0M384.0 91.4h0M403.8 82.9h0M388.4 84.6h0M367.8 94.4h0M398.4 86.0h0M374.7 87.7h0M401.1 84.8h0M395.0 79.0h0M388.1 94.6h0M378.0 84.9h0M381.8 78.5h0M380.5 93.4h0M376.5 85.5h0M372.2 98.7h0M401.0 93.1h0M393.3 81.6h0M373.5 96.2h0M366.4 79.0h0M385.9 76.4h0M387.8 79.7h0M393.2 92.0h0M403.3 87.9h0M369.2 79.1h0M391.4 89.5h0M381.2 88.0h0M369.8 85.5h0M390.3 95.9h0M369.9 87.5h0M399.9 81.1h0M398.0 79.6h0M374.9 98.9h0M383.8 89.3h0M365.4 84.1h0M384.6 87.2h0M407.8 84.5h0M389.8 95.7h0M381.5 79.7h0M362.0 86.9h0M374.2 89.1h0M394.3 91.2h0M373.9 85.6h0M373.9 78.5h0M370.6 87.8h0M369.0 92.1h0M377.9 77.7h0M373.4 92.6h0M389.5 86.2h0M397.5 90.8h0M392.4 88.4h0M378.9 86.1h0M377.1 98.9h0M372.1 98.5h0M386.3 83.4h0M380.9 76.8h0M375.8 76.0h0M375.8 92.7h0M368.0 86.8h0M393.2 86.3h0M386.9 86.7h0M380.5 90.3h0M379.8 81.7h0M380.9 96.8h0M366.9 87.2h0M371.3 95.4h0M373.9 85.2h0M388.0 93.2h0M391.8 97.8h0M378.4 92.7h0M370.3 79.6h0M372.9 85.1h0M374.5 91.1h0M390.9 97.2h0M400.7 85.9h0M380.8 81.8h0M369.7 76.7h0M388.6 86.1h0M375.6 77.2h0M403.8 89.6h0M393.1 92.1h0M372.1 76.0h0M401.4 80.5h0M382.5 98.1h0M369.2 77.4h0M377.6 83.4h0M376.5 82.6h0M384.9 91.5h0M400.0 89.8h0M379.1 99.0h0M381.9 85.5h0M365.2 79.1h0M394.1 89.4h0M380.3 85.2h0M370.7 85.2h0M371.4 78.7h0M377.6 90.9h0M402.4 89.9h0M399.3 92.1h0M365.7 93.8h0M378.1 86.0h0M373.5 76.8h0M378.5 82.4h0M368.8 94.2h0M387.8 96.3h0M365.1 80.8h0M392.9 83.4h0M388.9 88.1h0M372.6 89.2h0M381.9 91.0h0M376.2 95.9h0M377.9 96.7h0M385.8 90.3h0M385.3 83.3h0M369.2 77.6h0M396.3 82.7h0M384.7 83.6h0M375.8 94.3h0M391.7 87.0h0M391.8 94.1h0M389.4 97.0h0M374.7 79.6h0M383.2 97.0h0M383.4 100.3h0M367.6 90.3h0M373.9 89.4h0M399.4 82.7h0M367.9 86.4h0M374.9 79.3h0M383.9 97.0h0M388.6 90.8h0M370.6 89.1h0M398.6 82.8h0M391.3 83.1h0M399.3 90.4h0M383.9 87.1h0M369.6 88.8h0M402.5 81.9h0M371.1 87.4h0M398.7 93.6h0M363.3 86.9h0M384.3 77.6h0M365.7 82.2h0M374.2 94.1h0M391.0 81.5h0M397.5 94.4h0M393.7 76.4h0M404.9 87.8h0M363.3 86.7h0M404.4 91.6h0M389.8 80.6h0M370.2 94.0h0M379.2 76.0h0M385.7 99.3h0M374.5 99.9h0M372.8 87.1h0M379.5 96.1h0M373.0 99.4h0M399.4 90.9h0M376.5 95.0h0M381.0 96.2h0M390.0 83.6h0M375.6 88.1h0M365.9 80.6h0M392.7 78.6h0M407.7 88.9h0M375.8 78.0h0M373.4 84.8h0M366.0 82.1h0M392.8 85.2h0M367.7 92.8h0M405.1 89.8h0M405.3 83.5h0M402.7 86.0h0M370.2 98.2h0M401.0 92.3h0M383.8 80.7h0M372.6 89.1h0M382.0 97.2h0M384.9 93.9h0M383.0 90.6h0M373.9 78.8h0M405.1 89.7h0M375.8 81.7h0M376.7 88.6h0M367.1 86.5h0M377.4 84.5h0M379.0 83.3h0M387.1 92.6h0M364.5 82.2h0M382.9 92.8h0M379.0 95.4h0M375.8 90.5h0M386.2 77.0h0M400.0 93.6h0M406.5 84.6h0M370.2 96.6h0M376.8 99.3h0M373.5 99.0h0M377.5 90.8h0M375.5 91.8h0M377.5 90.9h0M401.4 87.8h0M397.8 84.9h0M370.0 82.9h0M378.7 87.7h0M384.8 97.1h0M400.9 84.9h0M399.7 91.1h0M369.5 87.0h0M390.8 79.4h0M362.2 87.9h0M395.0 88.8h0M382.6 90.5h0M379.3 88.1h0M372.4 92.9h0M376.6 88.3h0M380.5 80.7h0M367.9 82.2h0M393.1 87.9h0M375.9 93.6h0M376.9 98.6h0M386.3 83.8h0M397.8 87.7h0M396.3 85.8h0M386.7 92.7h0M367.3 78.8h0M383.2 80.1h0M387.8 81.9h0M380.3 97.6h0M391.6 79.5h0M386.4 76.4h0M385.8 99.4h0M361.9 87.9h0M362.4 85.4h0M363.1 82.8h0M363.1 80.4h0M364.1 80.1h0M365.5 78.2h0M366.8 77.7h0M368.8 76.6h0M369.7 76.0h0M372.3 76.1h0M375.0 76.0h0M377.6 75.7h0M379.8 75.6h0M382.3 75.7h0M384.6 76.0h0M387.2 76.1h0M389.5 76.4h0M392.1 76.0h0M394.6 76.3h0M395.5 76.7h0M398.1 78.1h0M400.3 79.0h0M401.7 80.1h0M404.1 81.4h0M405.8 82.6h0M407.3 84.0h0M409.2 86.1h0M408.9 85.7h0M408.7 88.3h0M408.4 90.8h0M411.1 89.7h0M408.2 90.6h0M406.1 91.1h0M403.2 92.3h0M401.2 93.3h0M398.4 93.8h0M396.2 95.1h0M393.2 96.7h0M391.1 98.6h0M391.1 98.8h0M388.3 99.2h0M386.2 99.8h0M384.2 100.5h0M382.0 100.1h0M379.2 100.3h0M376.8 100.1h0M374.4 99.7h0M373.3 99.6h0M370.5 98.6h0M368.1 97.8h0M367.4 97.7h0M365.3 95.6h0M363.8 94.2h0M363.0 93.7h0M362.6 91.5h0M362.3 89.0h0M411.0 84.0h0M414.7 80.0h0M418.0 86.0h0M422.0 80.0h0M425.0 88.0h0M428.0 90.0h0M431.0 86.0h0M434.6 85.0h0M438.0 85.0h0M441.0 88.0h0M444.6 87.4h0M445.4 92.4h0M450.0 92.0h0M455.4 93.6h0M457.0 92.4h0M408.0 90.0h0M412.0 92.0h0M416.0 89.0h0M420.0 91.0h0M413.0 85.0h0M472.8 86.0h0M471.5 95.0h0M477.8 96.0h0M484.0 97.4h0M420.5 106.0h0M392.0 106.0h0M421.0 106.0h0M436.5 57.4h0M422.0 80.0h0M409.0 95.0h0M405.0 98.0h0M443.9 94.7h0M444.5 92.5h0M453.7 95.0h0M420.2 93.7h0M425.7 93.8h0M437.2 90.4h0M438.1 92.7h0M441.8 90.1h0M432.9 89.3h0M429.3 90.3h0M430.3 88.8h0M438.8 93.3h0M439.2 93.2h0M435.5 93.7h0M457.9 94.6h0M425.9 89.7h0M419.5 91.9h0M448.5 94.3h0M421.0 89.4h0M421.7 92.2h0M422.6 91.9h0M455.8 95.0h0M451.6 93.9h0M450.5 92.5h0M433.6 91.9h0M437.1 89.5h0M420.1 91.9h0M427.6 92.4h0M447.4 94.1h0M415.2 93.2h0M415.7 87.4h0M426.7 89.6h0M433.6 91.8h0M450.0 93.3h0M441.3 91.8h0M427.9 92.4h0M412.1 93.1h0M415.4 90.5h0M417.9 89.0h0M422.1 93.3h0M452.3 93.3h0M419.7 91.2h0M430.5 94.0h0M454.8 94.6h0M421.0 92.5h0M443.2 91.5h0M422.9 88.9h0M423.7 92.6h0M436.4 90.2h0M427.9 89.1h0M446.8 93.5h0M426.7 88.8h0M441.0 88.1h0M423.8 88.7h0M422.5 93.3h0M421.9 93.1h0M417.7 91.1h0M434.9 94.3h0M416.3 92.8h0M418.4 93.1h0M418.4 88.0h0M454.8 93.7h0M415.1 91.4h0M421.3 89.0h0M439.0 87.0h0" stroke="#00ff00" stroke-width="6.6" stroke-linecap="round" fill="none"/>
</g>
<path d="M56.5 9.7V166.5H259.0" stroke="#2e2e2e" stroke-width="1" fill="none"/>
<path d="M56.5 10.50h2.6M56.50 166.5v-2.6M56.5 49.50h2.6M107.00 166.5v-2.6M56.5 88.50h2.6M157.50 166.5v-2.6M56.5 127.50h2.6M208.00 166.5v-2.6M56.5 166.50h2.6M258.50 166.5v-2.6" stroke="#2e2e2e" stroke-width="1" fill="none"/>
<text x="49.3" y="13.6" text-anchor="end" class="t">10</text>
<text x="49.3" y="52.6" text-anchor="end" class="t">5</text>
<text x="49.3" y="91.6" text-anchor="end" class="t">0</text>
<text x="49.3" y="130.6" text-anchor="end" class="t">-5</text>
<text x="49.3" y="169.6" text-anchor="end" class="t">-10</text>
<text x="56.2" y="187.3" text-anchor="middle" class="t">-10</text>
<text x="106.7" y="187.3" text-anchor="middle" class="t">-5</text>
<text x="157.2" y="187.3" text-anchor="middle" class="t">0</text>
<text x="207.7" y="187.3" text-anchor="middle" class="t">5</text>
<text x="258.2" y="187.3" text-anchor="middle" class="t">10</text>
<text x="106.3" y="209.7" textLength="101.3" lengthAdjust="spacingAndGlyphs" class="l">dimension one</text>
<text transform="translate(16.8 139.3) rotate(-90)" textLength="102.6" lengthAdjust="spacingAndGlyphs" class="l">dimension two</text>
<path d="M336.5 9.7V166.5H539.0" stroke="#2e2e2e" stroke-width="1" fill="none"/>
<path d="M336.5 10.50h2.6M336.50 166.5v-2.6M336.5 49.50h2.6M387.00 166.5v-2.6M336.5 88.50h2.6M437.50 166.5v-2.6M336.5 127.50h2.6M488.00 166.5v-2.6M336.5 166.50h2.6M538.50 166.5v-2.6" stroke="#2e2e2e" stroke-width="1" fill="none"/>
<text x="329.7" y="13.6" text-anchor="end" class="t">10</text>
<text x="329.7" y="52.6" text-anchor="end" class="t">5</text>
<text x="329.7" y="91.6" text-anchor="end" class="t">0</text>
<text x="329.7" y="130.6" text-anchor="end" class="t">-5</text>
<text x="329.7" y="169.6" text-anchor="end" class="t">-10</text>
<text x="336.6" y="187.3" text-anchor="middle" class="t">-10</text>
<text x="387.1" y="187.3" text-anchor="middle" class="t">-5</text>
<text x="437.6" y="187.3" text-anchor="middle" class="t">0</text>
<text x="488.1" y="187.3" text-anchor="middle" class="t">5</text>
<text x="538.6" y="187.3" text-anchor="middle" class="t">10</text>
<text x="386.7" y="209.7" textLength="101.3" lengthAdjust="spacingAndGlyphs" class="l">dimension one</text>
<text transform="translate(297.2 139.3) rotate(-90)" textLength="102.6" lengthAdjust="spacingAndGlyphs" class="l">dimension two</text>
<text x="134.5" y="235.6" text-anchor="middle" class="c">(<tspan font-weight="bold">a</tspan>)</text>
<text x="415.3" y="235.3" text-anchor="middle" class="c">(<tspan font-weight="bold">b</tspan>)</text>
</svg>
</body></html>
